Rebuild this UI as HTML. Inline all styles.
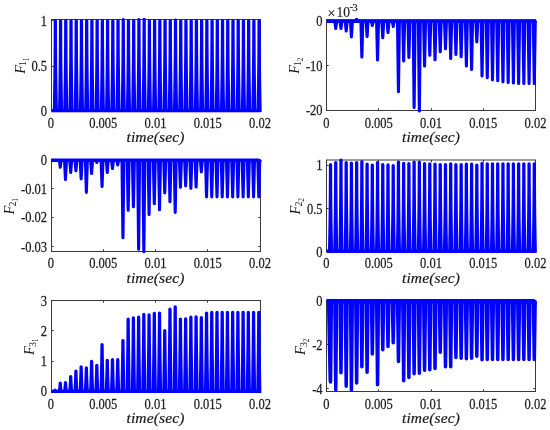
<!DOCTYPE html>
<html><head><meta charset="utf-8"><style>
html,body{margin:0;padding:0;background:#fff;}
body{width:550px;height:430px;overflow:hidden;}
svg{display:block;}
.tk{font-family:"Liberation Serif",serif;font-size:13.6px;fill:#1e1e1e;stroke:#1e1e1e;stroke-width:0.25px;}
.xl{font-family:"Liberation Serif",serif;font-style:italic;font-size:15.5px;letter-spacing:0.15px;fill:#1a1a1a;stroke:#1a1a1a;stroke-width:0.2px;}
.yl{font-family:"Liberation Serif",serif;font-style:italic;font-size:14.5px;fill:#1a1a1a;}
.s1{font-style:normal;font-size:10px;}
.s2{font-style:normal;font-size:7.6px;}
.ex{font-family:"Liberation Serif",serif;font-size:12.5px;fill:#1e1e1e;stroke:#1e1e1e;stroke-width:0.2px;}
.exs{font-size:11px;}
.ex2{font-size:14.5px;}
.ex3{font-size:14px;}
</style></head><body>
<svg width="550" height="430" viewBox="0 0 550 430">
<defs></defs>
<rect width="550" height="430" fill="#fff"/>
<rect x="51.5" y="19.5" width="209.0" height="91.0" fill="none" stroke="#3a3a3a" stroke-width="1"/><line x1="51.5" y1="110.5" x2="51.5" y2="108.3" stroke="#3a3a3a" stroke-width="1"/><line x1="51.5" y1="19.5" x2="51.5" y2="21.7" stroke="#3a3a3a" stroke-width="1"/><line x1="103.5" y1="110.5" x2="103.5" y2="108.3" stroke="#3a3a3a" stroke-width="1"/><line x1="103.5" y1="19.5" x2="103.5" y2="21.7" stroke="#3a3a3a" stroke-width="1"/><line x1="155.5" y1="110.5" x2="155.5" y2="108.3" stroke="#3a3a3a" stroke-width="1"/><line x1="155.5" y1="19.5" x2="155.5" y2="21.7" stroke="#3a3a3a" stroke-width="1"/><line x1="207.5" y1="110.5" x2="207.5" y2="108.3" stroke="#3a3a3a" stroke-width="1"/><line x1="207.5" y1="19.5" x2="207.5" y2="21.7" stroke="#3a3a3a" stroke-width="1"/><line x1="260.5" y1="110.5" x2="260.5" y2="108.3" stroke="#3a3a3a" stroke-width="1"/><line x1="260.5" y1="19.5" x2="260.5" y2="21.7" stroke="#3a3a3a" stroke-width="1"/><line x1="51.5" y1="111.5" x2="53.7" y2="111.5" stroke="#3a3a3a" stroke-width="1"/><line x1="260.5" y1="111.5" x2="258.3" y2="111.5" stroke="#3a3a3a" stroke-width="1"/><line x1="51.5" y1="66.5" x2="53.7" y2="66.5" stroke="#3a3a3a" stroke-width="1"/><line x1="260.5" y1="66.5" x2="258.3" y2="66.5" stroke="#3a3a3a" stroke-width="1"/><line x1="51.5" y1="20.5" x2="53.7" y2="20.5" stroke="#3a3a3a" stroke-width="1"/><line x1="260.5" y1="20.5" x2="258.3" y2="20.5" stroke="#3a3a3a" stroke-width="1"/><rect x="326.5" y="19.5" width="209.0" height="91.0" fill="none" stroke="#3a3a3a" stroke-width="1"/><line x1="326.5" y1="110.5" x2="326.5" y2="108.3" stroke="#3a3a3a" stroke-width="1"/><line x1="326.5" y1="19.5" x2="326.5" y2="21.7" stroke="#3a3a3a" stroke-width="1"/><line x1="378.5" y1="110.5" x2="378.5" y2="108.3" stroke="#3a3a3a" stroke-width="1"/><line x1="378.5" y1="19.5" x2="378.5" y2="21.7" stroke="#3a3a3a" stroke-width="1"/><line x1="431.5" y1="110.5" x2="431.5" y2="108.3" stroke="#3a3a3a" stroke-width="1"/><line x1="431.5" y1="19.5" x2="431.5" y2="21.7" stroke="#3a3a3a" stroke-width="1"/><line x1="483.5" y1="110.5" x2="483.5" y2="108.3" stroke="#3a3a3a" stroke-width="1"/><line x1="483.5" y1="19.5" x2="483.5" y2="21.7" stroke="#3a3a3a" stroke-width="1"/><line x1="535.5" y1="110.5" x2="535.5" y2="108.3" stroke="#3a3a3a" stroke-width="1"/><line x1="535.5" y1="19.5" x2="535.5" y2="21.7" stroke="#3a3a3a" stroke-width="1"/><line x1="326.5" y1="21.5" x2="328.7" y2="21.5" stroke="#3a3a3a" stroke-width="1"/><line x1="535.5" y1="21.5" x2="533.3" y2="21.5" stroke="#3a3a3a" stroke-width="1"/><line x1="326.5" y1="65.5" x2="328.7" y2="65.5" stroke="#3a3a3a" stroke-width="1"/><line x1="535.5" y1="65.5" x2="533.3" y2="65.5" stroke="#3a3a3a" stroke-width="1"/><line x1="326.5" y1="110.5" x2="328.7" y2="110.5" stroke="#3a3a3a" stroke-width="1"/><line x1="535.5" y1="110.5" x2="533.3" y2="110.5" stroke="#3a3a3a" stroke-width="1"/><rect x="51.5" y="160.0" width="209.0" height="91.5" fill="none" stroke="#3a3a3a" stroke-width="1"/><line x1="51.5" y1="251.5" x2="51.5" y2="249.3" stroke="#3a3a3a" stroke-width="1"/><line x1="51.5" y1="160.0" x2="51.5" y2="162.2" stroke="#3a3a3a" stroke-width="1"/><line x1="103.5" y1="251.5" x2="103.5" y2="249.3" stroke="#3a3a3a" stroke-width="1"/><line x1="103.5" y1="160.0" x2="103.5" y2="162.2" stroke="#3a3a3a" stroke-width="1"/><line x1="155.5" y1="251.5" x2="155.5" y2="249.3" stroke="#3a3a3a" stroke-width="1"/><line x1="155.5" y1="160.0" x2="155.5" y2="162.2" stroke="#3a3a3a" stroke-width="1"/><line x1="207.5" y1="251.5" x2="207.5" y2="249.3" stroke="#3a3a3a" stroke-width="1"/><line x1="207.5" y1="160.0" x2="207.5" y2="162.2" stroke="#3a3a3a" stroke-width="1"/><line x1="260.5" y1="251.5" x2="260.5" y2="249.3" stroke="#3a3a3a" stroke-width="1"/><line x1="260.5" y1="160.0" x2="260.5" y2="162.2" stroke="#3a3a3a" stroke-width="1"/><line x1="51.5" y1="159.5" x2="53.7" y2="159.5" stroke="#3a3a3a" stroke-width="1"/><line x1="260.5" y1="159.5" x2="258.3" y2="159.5" stroke="#3a3a3a" stroke-width="1"/><line x1="51.5" y1="188.5" x2="53.7" y2="188.5" stroke="#3a3a3a" stroke-width="1"/><line x1="260.5" y1="188.5" x2="258.3" y2="188.5" stroke="#3a3a3a" stroke-width="1"/><line x1="51.5" y1="217.5" x2="53.7" y2="217.5" stroke="#3a3a3a" stroke-width="1"/><line x1="260.5" y1="217.5" x2="258.3" y2="217.5" stroke="#3a3a3a" stroke-width="1"/><line x1="51.5" y1="246.5" x2="53.7" y2="246.5" stroke="#3a3a3a" stroke-width="1"/><line x1="260.5" y1="246.5" x2="258.3" y2="246.5" stroke="#3a3a3a" stroke-width="1"/><rect x="326.5" y="160.0" width="209.0" height="91.5" fill="none" stroke="#3a3a3a" stroke-width="1"/><line x1="326.5" y1="251.5" x2="326.5" y2="249.3" stroke="#3a3a3a" stroke-width="1"/><line x1="326.5" y1="160.0" x2="326.5" y2="162.2" stroke="#3a3a3a" stroke-width="1"/><line x1="378.5" y1="251.5" x2="378.5" y2="249.3" stroke="#3a3a3a" stroke-width="1"/><line x1="378.5" y1="160.0" x2="378.5" y2="162.2" stroke="#3a3a3a" stroke-width="1"/><line x1="431.5" y1="251.5" x2="431.5" y2="249.3" stroke="#3a3a3a" stroke-width="1"/><line x1="431.5" y1="160.0" x2="431.5" y2="162.2" stroke="#3a3a3a" stroke-width="1"/><line x1="483.5" y1="251.5" x2="483.5" y2="249.3" stroke="#3a3a3a" stroke-width="1"/><line x1="483.5" y1="160.0" x2="483.5" y2="162.2" stroke="#3a3a3a" stroke-width="1"/><line x1="535.5" y1="251.5" x2="535.5" y2="249.3" stroke="#3a3a3a" stroke-width="1"/><line x1="535.5" y1="160.0" x2="535.5" y2="162.2" stroke="#3a3a3a" stroke-width="1"/><line x1="326.5" y1="251.5" x2="328.7" y2="251.5" stroke="#3a3a3a" stroke-width="1"/><line x1="535.5" y1="251.5" x2="533.3" y2="251.5" stroke="#3a3a3a" stroke-width="1"/><line x1="326.5" y1="208.5" x2="328.7" y2="208.5" stroke="#3a3a3a" stroke-width="1"/><line x1="535.5" y1="208.5" x2="533.3" y2="208.5" stroke="#3a3a3a" stroke-width="1"/><line x1="326.5" y1="165.5" x2="328.7" y2="165.5" stroke="#3a3a3a" stroke-width="1"/><line x1="535.5" y1="165.5" x2="533.3" y2="165.5" stroke="#3a3a3a" stroke-width="1"/><rect x="51.5" y="300.5" width="209.0" height="91.0" fill="none" stroke="#3a3a3a" stroke-width="1"/><line x1="51.5" y1="391.5" x2="51.5" y2="389.3" stroke="#3a3a3a" stroke-width="1"/><line x1="51.5" y1="300.5" x2="51.5" y2="302.7" stroke="#3a3a3a" stroke-width="1"/><line x1="103.5" y1="391.5" x2="103.5" y2="389.3" stroke="#3a3a3a" stroke-width="1"/><line x1="103.5" y1="300.5" x2="103.5" y2="302.7" stroke="#3a3a3a" stroke-width="1"/><line x1="155.5" y1="391.5" x2="155.5" y2="389.3" stroke="#3a3a3a" stroke-width="1"/><line x1="155.5" y1="300.5" x2="155.5" y2="302.7" stroke="#3a3a3a" stroke-width="1"/><line x1="207.5" y1="391.5" x2="207.5" y2="389.3" stroke="#3a3a3a" stroke-width="1"/><line x1="207.5" y1="300.5" x2="207.5" y2="302.7" stroke="#3a3a3a" stroke-width="1"/><line x1="260.5" y1="391.5" x2="260.5" y2="389.3" stroke="#3a3a3a" stroke-width="1"/><line x1="260.5" y1="300.5" x2="260.5" y2="302.7" stroke="#3a3a3a" stroke-width="1"/><line x1="51.5" y1="391.5" x2="53.7" y2="391.5" stroke="#3a3a3a" stroke-width="1"/><line x1="260.5" y1="391.5" x2="258.3" y2="391.5" stroke="#3a3a3a" stroke-width="1"/><line x1="51.5" y1="361.5" x2="53.7" y2="361.5" stroke="#3a3a3a" stroke-width="1"/><line x1="260.5" y1="361.5" x2="258.3" y2="361.5" stroke="#3a3a3a" stroke-width="1"/><line x1="51.5" y1="330.5" x2="53.7" y2="330.5" stroke="#3a3a3a" stroke-width="1"/><line x1="260.5" y1="330.5" x2="258.3" y2="330.5" stroke="#3a3a3a" stroke-width="1"/><line x1="51.5" y1="300.5" x2="53.7" y2="300.5" stroke="#3a3a3a" stroke-width="1"/><line x1="260.5" y1="300.5" x2="258.3" y2="300.5" stroke="#3a3a3a" stroke-width="1"/><rect x="326.5" y="300.5" width="209.0" height="91.0" fill="none" stroke="#3a3a3a" stroke-width="1"/><line x1="326.5" y1="391.5" x2="326.5" y2="389.3" stroke="#3a3a3a" stroke-width="1"/><line x1="326.5" y1="300.5" x2="326.5" y2="302.7" stroke="#3a3a3a" stroke-width="1"/><line x1="378.5" y1="391.5" x2="378.5" y2="389.3" stroke="#3a3a3a" stroke-width="1"/><line x1="378.5" y1="300.5" x2="378.5" y2="302.7" stroke="#3a3a3a" stroke-width="1"/><line x1="431.5" y1="391.5" x2="431.5" y2="389.3" stroke="#3a3a3a" stroke-width="1"/><line x1="431.5" y1="300.5" x2="431.5" y2="302.7" stroke="#3a3a3a" stroke-width="1"/><line x1="483.5" y1="391.5" x2="483.5" y2="389.3" stroke="#3a3a3a" stroke-width="1"/><line x1="483.5" y1="300.5" x2="483.5" y2="302.7" stroke="#3a3a3a" stroke-width="1"/><line x1="535.5" y1="391.5" x2="535.5" y2="389.3" stroke="#3a3a3a" stroke-width="1"/><line x1="535.5" y1="300.5" x2="535.5" y2="302.7" stroke="#3a3a3a" stroke-width="1"/><line x1="326.5" y1="301.5" x2="328.7" y2="301.5" stroke="#3a3a3a" stroke-width="1"/><line x1="535.5" y1="301.5" x2="533.3" y2="301.5" stroke="#3a3a3a" stroke-width="1"/><line x1="326.5" y1="344.5" x2="328.7" y2="344.5" stroke="#3a3a3a" stroke-width="1"/><line x1="535.5" y1="344.5" x2="533.3" y2="344.5" stroke="#3a3a3a" stroke-width="1"/><line x1="326.5" y1="388.5" x2="328.7" y2="388.5" stroke="#3a3a3a" stroke-width="1"/><line x1="535.5" y1="388.5" x2="533.3" y2="388.5" stroke="#3a3a3a" stroke-width="1"/>
<g fill="#0000ff" stroke="none">
<path d="M52.74,112.10 L52.96,100.67 L53.15,89.24 L53.32,77.81 L53.45,66.38 L53.55,54.94 L53.63,43.51 L53.67,32.08 L53.69,20.65 A1.65,1.65 0 0 1 56.99,20.65 L57.00,32.08 L57.05,43.51 L57.12,54.94 L57.22,66.38 L57.36,77.81 L57.52,89.24 L57.71,100.67 L57.94,112.10Z"/><path d="M57.96,112.10 L58.18,100.67 L58.38,89.24 L58.54,77.81 L58.67,66.38 L58.78,54.94 L58.85,43.51 L58.90,32.08 L58.91,20.65 A1.65,1.65 0 0 1 62.21,20.65 L62.23,32.08 L62.27,43.51 L62.35,54.94 L62.45,66.38 L62.58,77.81 L62.75,89.24 L62.94,100.67 L63.16,112.10Z"/><path d="M63.19,112.10 L63.41,100.67 L63.60,89.24 L63.77,77.81 L63.90,66.38 L64.00,54.94 L64.08,43.51 L64.12,32.08 L64.14,20.65 A1.65,1.65 0 0 1 67.44,20.65 L67.45,32.08 L67.50,43.51 L67.57,54.94 L67.67,66.38 L67.81,77.81 L67.97,89.24 L68.16,100.67 L68.39,112.10Z"/><path d="M68.41,112.10 L68.63,100.67 L68.83,89.24 L68.99,77.81 L69.12,66.38 L69.23,54.94 L69.30,43.51 L69.35,32.08 L69.36,20.65 A1.65,1.65 0 0 1 72.66,20.65 L72.68,32.08 L72.72,43.51 L72.80,54.94 L72.90,66.38 L73.03,77.81 L73.20,89.24 L73.39,100.67 L73.61,112.10Z"/><path d="M73.64,112.10 L73.86,100.67 L74.05,89.24 L74.22,77.81 L74.35,66.38 L74.45,54.94 L74.53,43.51 L74.57,32.08 L74.59,20.65 A1.65,1.65 0 0 1 77.89,20.65 L77.90,32.08 L77.95,43.51 L78.02,54.94 L78.12,66.38 L78.26,77.81 L78.42,89.24 L78.61,100.67 L78.84,112.10Z"/><path d="M78.86,112.10 L79.08,100.67 L79.28,89.24 L79.44,77.81 L79.57,66.38 L79.68,54.94 L79.75,43.51 L79.80,32.08 L79.81,20.65 A1.65,1.65 0 0 1 83.11,20.65 L83.13,32.08 L83.17,43.51 L83.25,54.94 L83.35,66.38 L83.48,77.81 L83.65,89.24 L83.84,100.67 L84.06,112.10Z"/><path d="M84.09,112.10 L84.31,100.67 L84.50,89.24 L84.67,77.81 L84.80,66.38 L84.90,54.94 L84.98,43.51 L85.02,32.08 L85.04,20.65 A1.65,1.65 0 0 1 88.34,20.65 L88.35,32.08 L88.40,43.51 L88.47,54.94 L88.57,66.38 L88.71,77.81 L88.87,89.24 L89.06,100.67 L89.29,112.10Z"/><path d="M89.31,112.10 L89.53,100.67 L89.73,89.24 L89.89,77.81 L90.02,66.38 L90.13,54.94 L90.20,43.51 L90.25,32.08 L90.26,20.65 A1.65,1.65 0 0 1 93.56,20.65 L93.58,32.08 L93.62,43.51 L93.70,54.94 L93.80,66.38 L93.93,77.81 L94.10,89.24 L94.29,100.67 L94.51,112.10Z"/><path d="M94.54,112.10 L94.76,100.67 L94.95,89.24 L95.12,77.81 L95.25,66.38 L95.35,54.94 L95.43,43.51 L95.47,32.08 L95.49,20.65 A1.65,1.65 0 0 1 98.79,20.65 L98.80,32.08 L98.85,43.51 L98.92,54.94 L99.02,66.38 L99.16,77.81 L99.32,89.24 L99.51,100.67 L99.74,112.10Z"/><path d="M99.76,112.10 L99.98,100.67 L100.18,89.24 L100.34,77.81 L100.47,66.38 L100.58,54.94 L100.65,43.51 L100.70,32.08 L100.71,20.65 A1.65,1.65 0 0 1 104.01,20.65 L104.03,32.08 L104.07,43.51 L104.15,54.94 L104.25,66.38 L104.38,77.81 L104.55,89.24 L104.74,100.67 L104.96,112.10Z"/><path d="M104.99,112.10 L105.21,100.67 L105.40,89.24 L105.57,77.81 L105.70,66.38 L105.80,54.94 L105.88,43.51 L105.92,32.08 L105.94,20.65 A1.65,1.65 0 0 1 109.24,20.65 L109.25,32.08 L109.30,43.51 L109.37,54.94 L109.47,66.38 L109.61,77.81 L109.77,89.24 L109.96,100.67 L110.19,112.10Z"/><path d="M110.21,112.10 L110.43,100.67 L110.63,89.24 L110.79,77.81 L110.92,66.38 L111.03,54.94 L111.10,43.51 L111.15,32.08 L111.16,20.65 A1.65,1.65 0 0 1 114.46,20.65 L114.48,32.08 L114.52,43.51 L114.60,54.94 L114.70,66.38 L114.83,77.81 L115.00,89.24 L115.19,100.67 L115.41,112.10Z"/><path d="M115.44,112.10 L115.66,100.67 L115.85,89.24 L116.02,77.81 L116.15,66.38 L116.25,54.94 L116.33,43.51 L116.37,32.08 L116.39,20.65 A1.65,1.65 0 0 1 119.69,20.65 L119.70,32.08 L119.75,43.51 L119.82,54.94 L119.92,66.38 L120.06,77.81 L120.22,89.24 L120.41,100.67 L120.64,112.10Z"/><path d="M120.66,112.10 L120.88,100.54 L121.08,88.99 L121.24,77.43 L121.37,65.88 L121.48,54.32 L121.55,42.76 L121.60,31.21 L121.61,19.65 A1.65,1.65 0 0 1 124.91,19.65 L124.93,31.21 L124.97,42.76 L125.05,54.32 L125.15,65.88 L125.28,77.43 L125.45,88.99 L125.64,100.54 L125.86,112.10Z"/><path d="M125.89,112.10 L126.11,100.67 L126.30,89.24 L126.47,77.81 L126.60,66.38 L126.70,54.94 L126.78,43.51 L126.82,32.08 L126.84,20.65 A1.65,1.65 0 0 1 130.14,20.65 L130.15,32.08 L130.20,43.51 L130.27,54.94 L130.37,66.38 L130.51,77.81 L130.67,89.24 L130.86,100.67 L131.09,112.10Z"/><path d="M131.11,112.10 L131.33,100.67 L131.53,89.24 L131.69,77.81 L131.82,66.38 L131.93,54.94 L132.00,43.51 L132.05,32.08 L132.06,20.65 A1.65,1.65 0 0 1 135.36,20.65 L135.38,32.08 L135.42,43.51 L135.50,54.94 L135.60,66.38 L135.73,77.81 L135.90,89.24 L136.09,100.67 L136.31,112.10Z"/><path d="M136.34,112.10 L136.56,100.54 L136.75,88.99 L136.92,77.43 L137.05,65.88 L137.15,54.32 L137.23,42.76 L137.27,31.21 L137.29,19.65 A1.65,1.65 0 0 1 140.59,19.65 L140.60,31.21 L140.65,42.76 L140.72,54.32 L140.82,65.88 L140.96,77.43 L141.12,88.99 L141.31,100.54 L141.54,112.10Z"/><path d="M141.56,112.10 L141.78,100.52 L141.98,88.94 L142.14,77.36 L142.27,65.78 L142.38,54.19 L142.45,42.61 L142.50,31.03 L142.51,19.45 A1.65,1.65 0 0 1 145.81,19.45 L145.83,31.03 L145.87,42.61 L145.95,54.19 L146.05,65.78 L146.18,77.36 L146.35,88.94 L146.54,100.52 L146.76,112.10Z"/><path d="M146.79,112.10 L147.01,100.67 L147.20,89.24 L147.37,77.81 L147.50,66.38 L147.60,54.94 L147.68,43.51 L147.72,32.08 L147.74,20.65 A1.65,1.65 0 0 1 151.04,20.65 L151.05,32.08 L151.10,43.51 L151.17,54.94 L151.27,66.38 L151.41,77.81 L151.57,89.24 L151.76,100.67 L151.99,112.10Z"/><path d="M152.01,112.10 L152.23,100.67 L152.43,89.24 L152.59,77.81 L152.72,66.38 L152.83,54.94 L152.90,43.51 L152.95,32.08 L152.96,20.65 A1.65,1.65 0 0 1 156.26,20.65 L156.28,32.08 L156.32,43.51 L156.40,54.94 L156.50,66.38 L156.63,77.81 L156.80,89.24 L156.99,100.67 L157.21,112.10Z"/><path d="M157.24,112.10 L157.46,100.67 L157.65,89.24 L157.82,77.81 L157.95,66.38 L158.05,54.94 L158.13,43.51 L158.17,32.08 L158.19,20.65 A1.65,1.65 0 0 1 161.49,20.65 L161.50,32.08 L161.55,43.51 L161.62,54.94 L161.72,66.38 L161.86,77.81 L162.02,89.24 L162.21,100.67 L162.44,112.10Z"/><path d="M162.46,112.10 L162.68,100.67 L162.88,89.24 L163.04,77.81 L163.17,66.38 L163.28,54.94 L163.35,43.51 L163.40,32.08 L163.41,20.65 A1.65,1.65 0 0 1 166.71,20.65 L166.73,32.08 L166.77,43.51 L166.85,54.94 L166.95,66.38 L167.08,77.81 L167.25,89.24 L167.44,100.67 L167.66,112.10Z"/><path d="M167.69,112.10 L167.91,100.67 L168.10,89.24 L168.27,77.81 L168.40,66.38 L168.50,54.94 L168.58,43.51 L168.62,32.08 L168.64,20.65 A1.65,1.65 0 0 1 171.94,20.65 L171.95,32.08 L172.00,43.51 L172.07,54.94 L172.17,66.38 L172.31,77.81 L172.47,89.24 L172.66,100.67 L172.89,112.10Z"/><path d="M172.91,112.10 L173.13,100.62 L173.33,89.14 L173.49,77.66 L173.62,66.17 L173.73,54.69 L173.80,43.21 L173.85,31.73 L173.86,20.25 A1.65,1.65 0 0 1 177.16,20.25 L177.18,31.73 L177.22,43.21 L177.30,54.69 L177.40,66.17 L177.53,77.66 L177.70,89.14 L177.89,100.62 L178.11,112.10Z"/><path d="M178.14,112.10 L178.36,100.67 L178.55,89.24 L178.72,77.81 L178.85,66.38 L178.95,54.94 L179.03,43.51 L179.07,32.08 L179.09,20.65 A1.65,1.65 0 0 1 182.39,20.65 L182.40,32.08 L182.45,43.51 L182.52,54.94 L182.62,66.38 L182.76,77.81 L182.92,89.24 L183.11,100.67 L183.34,112.10Z"/><path d="M183.36,112.10 L183.58,100.67 L183.78,89.24 L183.94,77.81 L184.07,66.38 L184.18,54.94 L184.25,43.51 L184.30,32.08 L184.31,20.65 A1.65,1.65 0 0 1 187.61,20.65 L187.63,32.08 L187.67,43.51 L187.75,54.94 L187.85,66.38 L187.98,77.81 L188.15,89.24 L188.34,100.67 L188.56,112.10Z"/><path d="M188.59,112.10 L188.81,100.67 L189.00,89.24 L189.17,77.81 L189.30,66.38 L189.40,54.94 L189.48,43.51 L189.52,32.08 L189.54,20.65 A1.65,1.65 0 0 1 192.84,20.65 L192.85,32.08 L192.90,43.51 L192.97,54.94 L193.07,66.38 L193.21,77.81 L193.37,89.24 L193.56,100.67 L193.79,112.10Z"/><path d="M193.81,112.10 L194.03,100.67 L194.23,89.24 L194.39,77.81 L194.52,66.38 L194.63,54.94 L194.70,43.51 L194.75,32.08 L194.76,20.65 A1.65,1.65 0 0 1 198.06,20.65 L198.08,32.08 L198.12,43.51 L198.20,54.94 L198.30,66.38 L198.43,77.81 L198.60,89.24 L198.79,100.67 L199.01,112.10Z"/><path d="M199.04,112.10 L199.26,100.67 L199.45,89.24 L199.62,77.81 L199.75,66.38 L199.85,54.94 L199.93,43.51 L199.97,32.08 L199.99,20.65 A1.65,1.65 0 0 1 203.29,20.65 L203.30,32.08 L203.35,43.51 L203.42,54.94 L203.52,66.38 L203.66,77.81 L203.82,89.24 L204.01,100.67 L204.24,112.10Z"/><path d="M204.26,112.10 L204.48,100.67 L204.68,89.24 L204.84,77.81 L204.97,66.38 L205.08,54.94 L205.15,43.51 L205.20,32.08 L205.21,20.65 A1.65,1.65 0 0 1 208.51,20.65 L208.53,32.08 L208.57,43.51 L208.65,54.94 L208.75,66.38 L208.88,77.81 L209.05,89.24 L209.24,100.67 L209.46,112.10Z"/><path d="M209.49,112.10 L209.71,100.67 L209.90,89.24 L210.07,77.81 L210.20,66.38 L210.30,54.94 L210.38,43.51 L210.42,32.08 L210.44,20.65 A1.65,1.65 0 0 1 213.74,20.65 L213.75,32.08 L213.80,43.51 L213.87,54.94 L213.97,66.38 L214.11,77.81 L214.27,89.24 L214.46,100.67 L214.69,112.10Z"/><path d="M214.71,112.10 L214.93,100.67 L215.13,89.24 L215.29,77.81 L215.42,66.38 L215.53,54.94 L215.60,43.51 L215.65,32.08 L215.66,20.65 A1.65,1.65 0 0 1 218.96,20.65 L218.98,32.08 L219.02,43.51 L219.10,54.94 L219.20,66.38 L219.33,77.81 L219.50,89.24 L219.69,100.67 L219.91,112.10Z"/><path d="M219.94,112.10 L220.16,100.67 L220.35,89.24 L220.52,77.81 L220.65,66.38 L220.75,54.94 L220.83,43.51 L220.87,32.08 L220.89,20.65 A1.65,1.65 0 0 1 224.19,20.65 L224.20,32.08 L224.25,43.51 L224.32,54.94 L224.42,66.38 L224.56,77.81 L224.72,89.24 L224.91,100.67 L225.14,112.10Z"/><path d="M225.16,112.10 L225.38,100.67 L225.58,89.24 L225.74,77.81 L225.87,66.38 L225.98,54.94 L226.05,43.51 L226.10,32.08 L226.11,20.65 A1.65,1.65 0 0 1 229.41,20.65 L229.43,32.08 L229.47,43.51 L229.55,54.94 L229.65,66.38 L229.78,77.81 L229.95,89.24 L230.14,100.67 L230.36,112.10Z"/><path d="M230.39,112.10 L230.61,100.67 L230.80,89.24 L230.97,77.81 L231.10,66.38 L231.20,54.94 L231.28,43.51 L231.32,32.08 L231.34,20.65 A1.65,1.65 0 0 1 234.64,20.65 L234.65,32.08 L234.70,43.51 L234.77,54.94 L234.87,66.38 L235.01,77.81 L235.17,89.24 L235.36,100.67 L235.59,112.10Z"/><path d="M235.61,112.10 L235.83,100.67 L236.03,89.24 L236.19,77.81 L236.32,66.38 L236.43,54.94 L236.50,43.51 L236.55,32.08 L236.56,20.65 A1.65,1.65 0 0 1 239.86,20.65 L239.88,32.08 L239.92,43.51 L240.00,54.94 L240.10,66.38 L240.23,77.81 L240.40,89.24 L240.59,100.67 L240.81,112.10Z"/><path d="M240.84,112.10 L241.06,100.67 L241.25,89.24 L241.42,77.81 L241.55,66.38 L241.65,54.94 L241.73,43.51 L241.77,32.08 L241.79,20.65 A1.65,1.65 0 0 1 245.09,20.65 L245.10,32.08 L245.15,43.51 L245.22,54.94 L245.32,66.38 L245.46,77.81 L245.62,89.24 L245.81,100.67 L246.04,112.10Z"/><path d="M246.06,112.10 L246.28,100.67 L246.48,89.24 L246.64,77.81 L246.77,66.38 L246.88,54.94 L246.95,43.51 L247.00,32.08 L247.01,20.65 A1.65,1.65 0 0 1 250.31,20.65 L250.33,32.08 L250.37,43.51 L250.45,54.94 L250.55,66.38 L250.68,77.81 L250.85,89.24 L251.04,100.67 L251.26,112.10Z"/><path d="M251.29,112.10 L251.51,100.67 L251.70,89.24 L251.87,77.81 L252.00,66.38 L252.10,54.94 L252.18,43.51 L252.22,32.08 L252.24,20.65 A1.65,1.65 0 0 1 255.54,20.65 L255.55,32.08 L255.60,43.51 L255.67,54.94 L255.77,66.38 L255.91,77.81 L256.07,89.24 L256.26,100.67 L256.49,112.10Z"/><path d="M256.51,112.10 L256.73,100.67 L256.93,89.24 L257.09,77.81 L257.22,66.38 L257.33,54.94 L257.40,43.51 L257.45,32.08 L257.46,20.65 A1.65,1.65 0 0 1 260.76,20.65 L260.78,32.08 L260.82,43.51 L260.90,54.94 L261.00,66.38 L261.13,77.81 L261.30,89.24 L261.49,100.67 L261.71,112.10Z"/><rect x="51.5" y="109.1" width="209.0" height="3.2"/><path d="M326.5,19.95 H536.0 L536.7,20.8 V23.0 H326.5 Z"/><path d="M333.25,21.00 L333.37,21.94 L333.49,22.89 L333.60,23.83 L333.72,24.77 L333.84,25.72 L333.96,26.66 L334.08,27.61 L334.20,28.55 A1.55,1.55 0 0 0 337.30,28.55 L337.42,27.61 L337.54,26.66 L337.65,25.72 L337.77,24.77 L337.89,23.83 L338.01,22.89 L338.13,21.94 L338.25,21.00Z"/><path d="M338.47,21.00 L338.59,21.94 L338.71,22.89 L338.83,23.83 L338.95,24.77 L339.07,25.72 L339.19,26.66 L339.30,27.61 L339.42,28.55 A1.55,1.55 0 0 0 342.52,28.55 L342.64,27.61 L342.76,26.66 L342.88,25.72 L343.00,24.77 L343.12,23.83 L343.24,22.89 L343.35,21.94 L343.47,21.00Z"/><path d="M343.70,21.00 L343.82,22.26 L343.94,23.51 L344.05,24.77 L344.17,26.02 L344.29,27.28 L344.41,28.54 L344.53,29.79 L344.65,31.05 A1.55,1.55 0 0 0 347.75,31.05 L347.87,29.79 L347.99,28.54 L348.10,27.28 L348.22,26.02 L348.34,24.77 L348.46,23.51 L348.58,22.26 L348.70,21.00Z"/><path d="M348.92,21.00 L349.04,22.98 L349.16,24.96 L349.28,26.94 L349.40,28.93 L349.52,30.91 L349.64,32.89 L349.75,34.87 L349.87,36.85 A1.55,1.55 0 0 0 352.97,36.85 L353.09,34.87 L353.21,32.89 L353.33,30.91 L353.45,28.93 L353.57,26.94 L353.69,24.96 L353.80,22.98 L353.92,21.00Z"/><path d="M359.37,21.00 L359.49,25.49 L359.61,29.99 L359.73,34.48 L359.85,38.98 L359.97,43.47 L360.09,47.96 L360.20,52.46 L360.32,56.95 A1.55,1.55 0 0 0 363.42,56.95 L363.54,52.46 L363.66,47.96 L363.78,43.47 L363.90,38.98 L364.02,34.48 L364.14,29.99 L364.25,25.49 L364.37,21.00Z"/><path d="M364.60,21.00 L364.72,22.93 L364.84,24.86 L364.95,26.79 L365.07,28.73 L365.19,30.66 L365.31,32.59 L365.43,34.52 L365.55,36.45 A1.55,1.55 0 0 0 368.65,36.45 L368.77,34.52 L368.89,32.59 L369.00,30.66 L369.12,28.73 L369.24,26.79 L369.36,24.86 L369.48,22.93 L369.60,21.00Z"/><path d="M369.82,21.00 L369.94,21.56 L370.06,22.11 L370.18,22.67 L370.30,23.23 L370.42,23.78 L370.54,24.34 L370.65,24.89 L370.77,25.45 A1.55,1.55 0 0 0 373.87,25.45 L373.99,24.89 L374.11,24.34 L374.23,23.78 L374.35,23.23 L374.47,22.67 L374.59,22.11 L374.70,21.56 L374.82,21.00Z"/><path d="M375.05,21.00 L375.17,25.87 L375.29,30.74 L375.40,35.61 L375.52,40.48 L375.64,45.34 L375.76,50.21 L375.88,55.08 L376.00,59.95 A1.55,1.55 0 0 0 379.10,59.95 L379.22,55.08 L379.34,50.21 L379.45,45.34 L379.57,40.48 L379.69,35.61 L379.81,30.74 L379.93,25.87 L380.05,21.00Z"/><path d="M380.27,21.00 L380.39,23.09 L380.51,25.19 L380.63,27.28 L380.75,29.38 L380.87,31.47 L380.99,33.56 L381.10,35.66 L381.22,37.75 A1.55,1.55 0 0 0 384.32,37.75 L384.44,35.66 L384.56,33.56 L384.68,31.47 L384.80,29.38 L384.92,27.28 L385.04,25.19 L385.15,23.09 L385.27,21.00Z"/><path d="M385.50,21.00 L385.62,22.44 L385.74,23.89 L385.85,25.33 L385.97,26.78 L386.09,28.22 L386.21,29.66 L386.33,31.11 L386.45,32.55 A1.55,1.55 0 0 0 389.55,32.55 L389.67,31.11 L389.79,29.66 L389.90,28.22 L390.02,26.78 L390.14,25.33 L390.26,23.89 L390.38,22.44 L390.50,21.00Z"/><path d="M390.72,21.00 L390.84,21.69 L390.96,22.39 L391.08,23.08 L391.20,23.77 L391.32,24.47 L391.44,25.16 L391.55,25.86 L391.67,26.55 A1.55,1.55 0 0 0 394.77,26.55 L394.89,25.86 L395.01,25.16 L395.13,24.47 L395.25,23.77 L395.37,23.08 L395.49,22.39 L395.60,21.69 L395.72,21.00Z"/><path d="M395.95,21.00 L396.07,29.83 L396.19,38.66 L396.30,47.49 L396.42,56.33 L396.54,65.16 L396.66,73.99 L396.78,82.82 L396.90,91.65 A1.55,1.55 0 0 0 400.00,91.65 L400.12,82.82 L400.24,73.99 L400.35,65.16 L400.47,56.33 L400.59,47.49 L400.71,38.66 L400.83,29.83 L400.95,21.00Z"/><path d="M401.17,21.00 L401.29,25.99 L401.41,30.99 L401.53,35.98 L401.65,40.98 L401.77,45.97 L401.89,50.96 L402.00,55.96 L402.12,60.95 A1.55,1.55 0 0 0 405.22,60.95 L405.34,55.96 L405.46,50.96 L405.58,45.97 L405.70,40.98 L405.82,35.98 L405.94,30.99 L406.05,25.99 L406.17,21.00Z"/><path d="M406.40,21.00 L406.52,25.56 L406.64,30.11 L406.75,34.67 L406.87,39.23 L406.99,43.78 L407.11,48.34 L407.23,52.89 L407.35,57.45 A1.55,1.55 0 0 0 410.45,57.45 L410.57,52.89 L410.69,48.34 L410.80,43.78 L410.92,39.23 L411.04,34.67 L411.16,30.11 L411.28,25.56 L411.40,21.00Z"/><path d="M411.62,21.00 L411.74,31.81 L411.86,42.61 L411.98,53.42 L412.10,64.22 L412.22,75.03 L412.34,85.84 L412.45,96.64 L412.57,107.45 A1.55,1.55 0 0 0 415.67,107.45 L415.79,96.64 L415.91,85.84 L416.03,75.03 L416.15,64.22 L416.27,53.42 L416.39,42.61 L416.50,31.81 L416.62,21.00Z"/><path d="M416.85,21.00 L416.97,32.24 L417.09,43.49 L417.20,54.73 L417.32,65.97 L417.44,77.22 L417.56,88.46 L417.68,99.71 L417.80,110.95 A1.55,1.55 0 0 0 420.90,110.95 L421.02,99.71 L421.14,88.46 L421.25,77.22 L421.37,65.97 L421.49,54.73 L421.61,43.49 L421.73,32.24 L421.85,21.00Z"/><path d="M422.07,21.00 L422.19,26.63 L422.31,32.26 L422.43,37.89 L422.55,43.52 L422.67,49.16 L422.79,54.79 L422.90,60.42 L423.02,66.05 A1.55,1.55 0 0 0 426.12,66.05 L426.24,60.42 L426.36,54.79 L426.48,49.16 L426.60,43.52 L426.72,37.89 L426.84,32.26 L426.95,26.63 L427.07,21.00Z"/><path d="M427.30,21.00 L427.42,25.27 L427.54,29.54 L427.65,33.81 L427.77,38.08 L427.89,42.34 L428.01,46.61 L428.13,50.88 L428.25,55.15 A1.55,1.55 0 0 0 431.35,55.15 L431.47,50.88 L431.59,46.61 L431.70,42.34 L431.82,38.08 L431.94,33.81 L432.06,29.54 L432.18,25.27 L432.30,21.00Z"/><path d="M432.52,21.00 L432.64,25.84 L432.76,30.69 L432.88,35.53 L433.00,40.38 L433.12,45.22 L433.24,50.06 L433.35,54.91 L433.47,59.75 A1.55,1.55 0 0 0 436.57,59.75 L436.69,54.91 L436.81,50.06 L436.93,45.22 L437.05,40.38 L437.17,35.53 L437.29,30.69 L437.40,25.84 L437.52,21.00Z"/><path d="M437.75,21.00 L437.87,24.83 L437.99,28.66 L438.10,32.49 L438.22,36.33 L438.34,40.16 L438.46,43.99 L438.58,47.82 L438.70,51.65 A1.55,1.55 0 0 0 441.80,51.65 L441.92,47.82 L442.04,43.99 L442.15,40.16 L442.27,36.33 L442.39,32.49 L442.51,28.66 L442.63,24.83 L442.75,21.00Z"/><path d="M442.97,21.00 L443.09,24.46 L443.21,27.91 L443.33,31.37 L443.45,34.83 L443.57,38.28 L443.69,41.74 L443.80,45.19 L443.92,48.65 A1.55,1.55 0 0 0 447.02,48.65 L447.14,45.19 L447.26,41.74 L447.38,38.28 L447.50,34.83 L447.62,31.37 L447.74,27.91 L447.85,24.46 L447.97,21.00Z"/><path d="M448.20,21.00 L448.32,25.68 L448.44,30.36 L448.55,35.04 L448.67,39.73 L448.79,44.41 L448.91,49.09 L449.03,53.77 L449.15,58.45 A1.55,1.55 0 0 0 452.25,58.45 L452.37,53.77 L452.49,49.09 L452.60,44.41 L452.72,39.73 L452.84,35.04 L452.96,30.36 L453.08,25.68 L453.20,21.00Z"/><path d="M453.42,21.00 L453.54,25.18 L453.66,29.36 L453.78,33.54 L453.90,37.73 L454.02,41.91 L454.14,46.09 L454.25,50.27 L454.37,54.45 A1.55,1.55 0 0 0 457.47,54.45 L457.59,50.27 L457.71,46.09 L457.83,41.91 L457.95,37.73 L458.07,33.54 L458.19,29.36 L458.30,25.18 L458.42,21.00Z"/><path d="M458.65,21.00 L458.77,25.47 L458.89,29.94 L459.00,34.41 L459.12,38.88 L459.24,43.34 L459.36,47.81 L459.48,52.28 L459.60,56.75 A1.55,1.55 0 0 0 462.70,56.75 L462.82,52.28 L462.94,47.81 L463.05,43.34 L463.17,38.88 L463.29,34.41 L463.41,29.94 L463.53,25.47 L463.65,21.00Z"/><path d="M463.87,21.00 L463.99,26.63 L464.11,32.26 L464.23,37.89 L464.35,43.52 L464.47,49.16 L464.59,54.79 L464.70,60.42 L464.82,66.05 A1.55,1.55 0 0 0 467.92,66.05 L468.04,60.42 L468.16,54.79 L468.28,49.16 L468.40,43.52 L468.52,37.89 L468.64,32.26 L468.75,26.63 L468.87,21.00Z"/><path d="M469.10,21.00 L469.22,27.07 L469.34,33.14 L469.45,39.21 L469.57,45.27 L469.69,51.34 L469.81,57.41 L469.93,63.48 L470.05,69.55 A1.55,1.55 0 0 0 473.15,69.55 L473.27,63.48 L473.39,57.41 L473.50,51.34 L473.62,45.27 L473.74,39.21 L473.86,33.14 L473.98,27.07 L474.10,21.00Z"/><path d="M474.32,21.00 L474.44,23.61 L474.56,26.21 L474.68,28.82 L474.80,31.43 L474.92,34.03 L475.04,36.64 L475.15,39.24 L475.27,41.85 A1.55,1.55 0 0 0 478.37,41.85 L478.49,39.24 L478.61,36.64 L478.73,34.03 L478.85,31.43 L478.97,28.82 L479.09,26.21 L479.20,23.61 L479.32,21.00Z"/><path d="M479.55,21.00 L479.67,27.88 L479.79,34.76 L479.90,41.64 L480.02,48.52 L480.14,55.41 L480.26,62.29 L480.38,69.17 L480.50,76.05 A1.55,1.55 0 0 0 483.60,76.05 L483.72,69.17 L483.84,62.29 L483.95,55.41 L484.07,48.52 L484.19,41.64 L484.31,34.76 L484.43,27.88 L484.55,21.00Z"/><path d="M484.77,21.00 L484.89,28.09 L485.01,35.19 L485.13,42.28 L485.25,49.38 L485.37,56.47 L485.49,63.56 L485.60,70.66 L485.72,77.75 A1.55,1.55 0 0 0 488.82,77.75 L488.94,70.66 L489.06,63.56 L489.18,56.47 L489.30,49.38 L489.42,42.28 L489.54,35.19 L489.65,28.09 L489.77,21.00Z"/><path d="M490.00,21.00 L490.12,28.36 L490.24,35.71 L490.35,43.07 L490.47,50.43 L490.59,57.78 L490.71,65.14 L490.83,72.49 L490.95,79.85 A1.55,1.55 0 0 0 494.05,79.85 L494.17,72.49 L494.29,65.14 L494.40,57.78 L494.52,50.43 L494.64,43.07 L494.76,35.71 L494.88,28.36 L495.00,21.00Z"/><path d="M495.22,21.00 L495.34,28.47 L495.46,35.94 L495.58,43.41 L495.70,50.88 L495.82,58.34 L495.94,65.81 L496.05,73.28 L496.17,80.75 A1.55,1.55 0 0 0 499.27,80.75 L499.39,73.28 L499.51,65.81 L499.63,58.34 L499.75,50.88 L499.87,43.41 L499.99,35.94 L500.10,28.47 L500.22,21.00Z"/><path d="M500.45,21.00 L500.57,28.61 L500.69,36.21 L500.80,43.82 L500.92,51.43 L501.04,59.03 L501.16,66.64 L501.28,74.24 L501.40,81.85 A1.55,1.55 0 0 0 504.50,81.85 L504.62,74.24 L504.74,66.64 L504.85,59.03 L504.97,51.43 L505.09,43.82 L505.21,36.21 L505.33,28.61 L505.45,21.00Z"/><path d="M505.67,21.00 L505.79,28.69 L505.91,36.39 L506.03,44.08 L506.15,51.77 L506.27,59.47 L506.39,67.16 L506.50,74.86 L506.62,82.55 A1.55,1.55 0 0 0 509.72,82.55 L509.84,74.86 L509.96,67.16 L510.08,59.47 L510.20,51.77 L510.32,44.08 L510.44,36.39 L510.55,28.69 L510.67,21.00Z"/><path d="M510.90,21.00 L511.02,28.76 L511.14,36.51 L511.25,44.27 L511.37,52.02 L511.49,59.78 L511.61,67.54 L511.73,75.29 L511.85,83.05 A1.55,1.55 0 0 0 514.95,83.05 L515.07,75.29 L515.19,67.54 L515.30,59.78 L515.42,52.02 L515.54,44.27 L515.66,36.51 L515.78,28.76 L515.90,21.00Z"/><path d="M516.12,21.00 L516.24,28.82 L516.36,36.64 L516.48,44.46 L516.60,52.27 L516.72,60.09 L516.84,67.91 L516.95,75.73 L517.07,83.55 A1.55,1.55 0 0 0 520.17,83.55 L520.29,75.73 L520.41,67.91 L520.53,60.09 L520.65,52.27 L520.77,44.46 L520.89,36.64 L521.00,28.82 L521.12,21.00Z"/><path d="M521.35,21.00 L521.47,28.82 L521.59,36.64 L521.70,44.46 L521.82,52.27 L521.94,60.09 L522.06,67.91 L522.18,75.73 L522.30,83.55 A1.55,1.55 0 0 0 525.40,83.55 L525.52,75.73 L525.64,67.91 L525.75,60.09 L525.87,52.27 L525.99,44.46 L526.11,36.64 L526.23,28.82 L526.35,21.00Z"/><path d="M526.57,21.00 L526.69,28.82 L526.81,36.64 L526.93,44.46 L527.05,52.27 L527.17,60.09 L527.29,67.91 L527.40,75.73 L527.52,83.55 A1.55,1.55 0 0 0 530.62,83.55 L530.74,75.73 L530.86,67.91 L530.98,60.09 L531.10,52.27 L531.22,44.46 L531.34,36.64 L531.45,28.82 L531.57,21.00Z"/><path d="M531.80,21.00 L531.92,28.82 L532.04,36.64 L532.15,44.46 L532.27,52.27 L532.39,60.09 L532.51,67.91 L532.63,75.73 L532.75,83.55 A1.55,1.55 0 0 0 535.85,83.55 L535.97,75.73 L536.09,67.91 L536.20,60.09 L536.32,52.27 L536.44,44.46 L536.56,36.64 L536.68,28.82 L536.80,21.00Z"/><circle cx="356.65" cy="19.6" r="1.8"/><path d="M51.0,158.4 H258.5 L261.4,160.2 V162 H51.0 Z"/><path d="M57.75,160.00 L57.87,160.91 L57.99,161.81 L58.10,162.72 L58.22,163.62 L58.34,164.53 L58.46,165.44 L58.58,166.34 L58.70,167.25 A1.55,1.55 0 0 0 61.80,167.25 L61.92,166.34 L62.04,165.44 L62.15,164.53 L62.27,163.62 L62.39,162.72 L62.51,161.81 L62.63,160.91 L62.75,160.00Z"/><path d="M62.97,160.00 L63.09,162.44 L63.21,164.89 L63.33,167.33 L63.45,169.77 L63.57,172.22 L63.69,174.66 L63.80,177.11 L63.92,179.55 A1.55,1.55 0 0 0 67.02,179.55 L67.14,177.11 L67.26,174.66 L67.38,172.22 L67.50,169.77 L67.62,167.33 L67.74,164.89 L67.85,162.44 L67.97,160.00Z"/><path d="M68.20,160.00 L68.32,161.57 L68.44,163.14 L68.55,164.71 L68.67,166.27 L68.79,167.84 L68.91,169.41 L69.03,170.98 L69.15,172.55 A1.55,1.55 0 0 0 72.25,172.55 L72.37,170.98 L72.49,169.41 L72.60,167.84 L72.72,166.27 L72.84,164.71 L72.96,163.14 L73.08,161.57 L73.20,160.00Z"/><path d="M73.42,160.00 L73.54,161.34 L73.66,162.69 L73.78,164.03 L73.90,165.38 L74.02,166.72 L74.14,168.06 L74.25,169.41 L74.37,170.75 A1.55,1.55 0 0 0 77.47,170.75 L77.59,169.41 L77.71,168.06 L77.83,166.72 L77.95,165.38 L78.07,164.03 L78.19,162.69 L78.30,161.34 L78.42,160.00Z"/><path d="M78.65,160.00 L78.77,162.36 L78.89,164.71 L79.00,167.07 L79.12,169.43 L79.24,171.78 L79.36,174.14 L79.48,176.49 L79.60,178.85 A1.55,1.55 0 0 0 82.70,178.85 L82.82,176.49 L82.94,174.14 L83.05,171.78 L83.17,169.43 L83.29,167.07 L83.41,164.71 L83.53,162.36 L83.65,160.00Z"/><path d="M83.87,160.00 L83.99,164.04 L84.11,168.09 L84.23,172.13 L84.35,176.18 L84.47,180.22 L84.59,184.26 L84.70,188.31 L84.82,192.35 A1.55,1.55 0 0 0 87.92,192.35 L88.04,188.31 L88.16,184.26 L88.28,180.22 L88.40,176.18 L88.52,172.13 L88.64,168.09 L88.75,164.04 L88.87,160.00Z"/><path d="M89.10,160.00 L89.22,161.69 L89.34,163.39 L89.45,165.08 L89.57,166.77 L89.69,168.47 L89.81,170.16 L89.93,171.86 L90.05,173.55 A1.55,1.55 0 0 0 93.15,173.55 L93.27,171.86 L93.39,170.16 L93.50,168.47 L93.62,166.77 L93.74,165.08 L93.86,163.39 L93.98,161.69 L94.10,160.00Z"/><path d="M94.32,160.00 L94.44,160.32 L94.56,160.64 L94.68,160.96 L94.80,161.27 L94.92,161.59 L95.04,161.91 L95.15,162.23 L95.27,162.55 A1.55,1.55 0 0 0 98.37,162.55 L98.49,162.23 L98.61,161.91 L98.73,161.59 L98.85,161.27 L98.97,160.96 L99.09,160.64 L99.20,160.32 L99.32,160.00Z"/><path d="M99.55,160.00 L99.67,163.32 L99.79,166.64 L99.90,169.96 L100.02,173.27 L100.14,176.59 L100.26,179.91 L100.38,183.23 L100.50,186.55 A1.55,1.55 0 0 0 103.60,186.55 L103.72,183.23 L103.84,179.91 L103.95,176.59 L104.07,173.27 L104.19,169.96 L104.31,166.64 L104.43,163.32 L104.55,160.00Z"/><path d="M104.77,160.00 L104.89,161.57 L105.01,163.14 L105.13,164.71 L105.25,166.27 L105.37,167.84 L105.49,169.41 L105.60,170.98 L105.72,172.55 A1.55,1.55 0 0 0 108.82,172.55 L108.94,170.98 L109.06,169.41 L109.18,167.84 L109.30,166.27 L109.42,164.71 L109.54,163.14 L109.65,161.57 L109.77,160.00Z"/><path d="M110.00,160.00 L110.12,161.06 L110.24,162.11 L110.35,163.17 L110.47,164.22 L110.59,165.28 L110.71,166.34 L110.83,167.39 L110.95,168.45 A1.55,1.55 0 0 0 114.05,168.45 L114.17,167.39 L114.29,166.34 L114.40,165.28 L114.52,164.22 L114.64,163.17 L114.76,162.11 L114.88,161.06 L115.00,160.00Z"/><path d="M115.22,160.00 L115.34,160.62 L115.46,161.24 L115.58,161.86 L115.70,162.47 L115.82,163.09 L115.94,163.71 L116.05,164.33 L116.17,164.95 A1.55,1.55 0 0 0 119.27,164.95 L119.39,164.33 L119.51,163.71 L119.63,163.09 L119.75,162.47 L119.87,161.86 L119.99,161.24 L120.10,160.62 L120.22,160.00Z"/><path d="M120.45,160.00 L120.57,169.72 L120.69,179.44 L120.80,189.16 L120.92,198.88 L121.04,208.59 L121.16,218.31 L121.28,228.03 L121.40,237.75 A1.55,1.55 0 0 0 124.50,237.75 L124.62,228.03 L124.74,218.31 L124.85,208.59 L124.97,198.88 L125.09,189.16 L125.21,179.44 L125.33,169.72 L125.45,160.00Z"/><path d="M125.67,160.00 L125.79,166.28 L125.91,172.56 L126.03,178.84 L126.15,185.12 L126.27,191.41 L126.39,197.69 L126.50,203.97 L126.62,210.25 A1.55,1.55 0 0 0 129.72,210.25 L129.84,203.97 L129.96,197.69 L130.08,191.41 L130.20,185.12 L130.32,178.84 L130.44,172.56 L130.55,166.28 L130.67,160.00Z"/><path d="M130.90,160.00 L131.02,165.84 L131.14,171.69 L131.25,177.53 L131.37,183.38 L131.49,189.22 L131.61,195.06 L131.73,200.91 L131.85,206.75 A1.55,1.55 0 0 0 134.95,206.75 L135.07,200.91 L135.19,195.06 L135.30,189.22 L135.42,183.38 L135.54,177.53 L135.66,171.69 L135.78,165.84 L135.90,160.00Z"/><path d="M136.12,160.00 L136.24,171.16 L136.36,182.31 L136.48,193.47 L136.60,204.62 L136.72,215.78 L136.84,226.94 L136.95,238.09 L137.07,249.25 A1.55,1.55 0 0 0 140.17,249.25 L140.29,238.09 L140.41,226.94 L140.53,215.78 L140.65,204.62 L140.77,193.47 L140.89,182.31 L141.00,171.16 L141.12,160.00Z"/><path d="M141.35,160.00 L141.47,171.46 L141.59,182.91 L141.70,194.37 L141.82,205.82 L141.94,217.28 L142.06,228.74 L142.18,240.19 L142.30,251.65 A1.55,1.55 0 0 0 145.40,251.65 L145.52,240.19 L145.64,228.74 L145.75,217.28 L145.87,205.82 L145.99,194.37 L146.11,182.91 L146.23,171.46 L146.35,160.00Z"/><path d="M146.57,160.00 L146.69,166.81 L146.81,173.61 L146.93,180.42 L147.05,187.22 L147.17,194.03 L147.29,200.84 L147.40,207.64 L147.52,214.45 A1.55,1.55 0 0 0 150.62,214.45 L150.74,207.64 L150.86,200.84 L150.98,194.03 L151.10,187.22 L151.22,180.42 L151.34,173.61 L151.45,166.81 L151.57,160.00Z"/><path d="M151.80,160.00 L151.92,165.47 L152.04,170.94 L152.15,176.41 L152.27,181.88 L152.39,187.34 L152.51,192.81 L152.63,198.28 L152.75,203.75 A1.55,1.55 0 0 0 155.85,203.75 L155.97,198.28 L156.09,192.81 L156.20,187.34 L156.32,181.88 L156.44,176.41 L156.56,170.94 L156.68,165.47 L156.80,160.00Z"/><path d="M157.02,160.00 L157.14,166.22 L157.26,172.44 L157.38,178.66 L157.50,184.88 L157.62,191.09 L157.74,197.31 L157.85,203.53 L157.97,209.75 A1.55,1.55 0 0 0 161.07,209.75 L161.19,203.53 L161.31,197.31 L161.43,191.09 L161.55,184.88 L161.67,178.66 L161.79,172.44 L161.90,166.22 L162.02,160.00Z"/><path d="M162.25,160.00 L162.37,164.11 L162.49,168.21 L162.60,172.32 L162.72,176.43 L162.84,180.53 L162.96,184.64 L163.08,188.74 L163.20,192.85 A1.55,1.55 0 0 0 166.30,192.85 L166.42,188.74 L166.54,184.64 L166.65,180.53 L166.77,176.43 L166.89,172.32 L167.01,168.21 L167.13,164.11 L167.25,160.00Z"/><path d="M167.47,160.00 L167.59,165.21 L167.71,170.41 L167.83,175.62 L167.95,180.82 L168.07,186.03 L168.19,191.24 L168.30,196.44 L168.42,201.65 A1.55,1.55 0 0 0 171.52,201.65 L171.64,196.44 L171.76,191.24 L171.88,186.03 L172.00,180.82 L172.12,175.62 L172.24,170.41 L172.35,165.21 L172.47,160.00Z"/><path d="M172.70,160.00 L172.82,166.54 L172.94,173.09 L173.05,179.63 L173.17,186.18 L173.29,192.72 L173.41,199.26 L173.53,205.81 L173.65,212.35 A1.55,1.55 0 0 0 176.75,212.35 L176.87,205.81 L176.99,199.26 L177.10,192.72 L177.22,186.18 L177.34,179.63 L177.46,173.09 L177.58,166.54 L177.70,160.00Z"/><path d="M177.92,160.00 L178.04,163.41 L178.16,166.81 L178.28,170.22 L178.40,173.62 L178.52,177.03 L178.64,180.44 L178.75,183.84 L178.87,187.25 A1.55,1.55 0 0 0 181.97,187.25 L182.09,183.84 L182.21,180.44 L182.33,177.03 L182.45,173.62 L182.57,170.22 L182.69,166.81 L182.80,163.41 L182.92,160.00Z"/><path d="M183.15,160.00 L183.27,163.23 L183.39,166.46 L183.50,169.69 L183.62,172.93 L183.74,176.16 L183.86,179.39 L183.98,182.62 L184.10,185.85 A1.55,1.55 0 0 0 187.20,185.85 L187.32,182.62 L187.44,179.39 L187.55,176.16 L187.67,172.93 L187.79,169.69 L187.91,166.46 L188.03,163.23 L188.15,160.00Z"/><path d="M188.37,160.00 L188.49,163.52 L188.61,167.04 L188.73,170.56 L188.85,174.07 L188.97,177.59 L189.09,181.11 L189.20,184.63 L189.32,188.15 A1.55,1.55 0 0 0 192.42,188.15 L192.54,184.63 L192.66,181.11 L192.78,177.59 L192.90,174.07 L193.02,170.56 L193.14,167.04 L193.25,163.52 L193.37,160.00Z"/><path d="M193.60,160.00 L193.72,163.38 L193.84,166.76 L193.95,170.14 L194.07,173.52 L194.19,176.91 L194.31,180.29 L194.43,183.67 L194.55,187.05 A1.55,1.55 0 0 0 197.65,187.05 L197.77,183.67 L197.89,180.29 L198.00,176.91 L198.12,173.52 L198.24,170.14 L198.36,166.76 L198.48,163.38 L198.60,160.00Z"/><path d="M198.82,160.00 L198.94,161.48 L199.06,162.96 L199.18,164.44 L199.30,165.93 L199.42,167.41 L199.54,168.89 L199.65,170.37 L199.77,171.85 A1.55,1.55 0 0 0 202.87,171.85 L202.99,170.37 L203.11,168.89 L203.23,167.41 L203.35,165.93 L203.47,164.44 L203.59,162.96 L203.70,161.48 L203.82,160.00Z"/><path d="M204.05,160.00 L204.17,164.61 L204.29,169.21 L204.40,173.82 L204.52,178.43 L204.64,183.03 L204.76,187.64 L204.88,192.24 L205.00,196.85 A1.55,1.55 0 0 0 208.10,196.85 L208.22,192.24 L208.34,187.64 L208.45,183.03 L208.57,178.43 L208.69,173.82 L208.81,169.21 L208.93,164.61 L209.05,160.00Z"/><path d="M209.27,160.00 L209.39,164.61 L209.51,169.21 L209.63,173.82 L209.75,178.43 L209.87,183.03 L209.99,187.64 L210.10,192.24 L210.22,196.85 A1.55,1.55 0 0 0 213.32,196.85 L213.44,192.24 L213.56,187.64 L213.68,183.03 L213.80,178.43 L213.92,173.82 L214.04,169.21 L214.15,164.61 L214.27,160.00Z"/><path d="M214.50,160.00 L214.62,164.61 L214.74,169.21 L214.85,173.82 L214.97,178.43 L215.09,183.03 L215.21,187.64 L215.33,192.24 L215.45,196.85 A1.55,1.55 0 0 0 218.55,196.85 L218.67,192.24 L218.79,187.64 L218.90,183.03 L219.02,178.43 L219.14,173.82 L219.26,169.21 L219.38,164.61 L219.50,160.00Z"/><path d="M219.72,160.00 L219.84,164.61 L219.96,169.21 L220.08,173.82 L220.20,178.43 L220.32,183.03 L220.44,187.64 L220.55,192.24 L220.67,196.85 A1.55,1.55 0 0 0 223.77,196.85 L223.89,192.24 L224.01,187.64 L224.13,183.03 L224.25,178.43 L224.37,173.82 L224.49,169.21 L224.60,164.61 L224.72,160.00Z"/><path d="M224.95,160.00 L225.07,164.61 L225.19,169.21 L225.30,173.82 L225.42,178.43 L225.54,183.03 L225.66,187.64 L225.78,192.24 L225.90,196.85 A1.55,1.55 0 0 0 229.00,196.85 L229.12,192.24 L229.24,187.64 L229.35,183.03 L229.47,178.43 L229.59,173.82 L229.71,169.21 L229.83,164.61 L229.95,160.00Z"/><path d="M230.17,160.00 L230.29,164.61 L230.41,169.21 L230.53,173.82 L230.65,178.43 L230.77,183.03 L230.89,187.64 L231.00,192.24 L231.12,196.85 A1.55,1.55 0 0 0 234.22,196.85 L234.34,192.24 L234.46,187.64 L234.58,183.03 L234.70,178.43 L234.82,173.82 L234.94,169.21 L235.05,164.61 L235.17,160.00Z"/><path d="M235.40,160.00 L235.52,164.61 L235.64,169.21 L235.75,173.82 L235.87,178.43 L235.99,183.03 L236.11,187.64 L236.23,192.24 L236.35,196.85 A1.55,1.55 0 0 0 239.45,196.85 L239.57,192.24 L239.69,187.64 L239.80,183.03 L239.92,178.43 L240.04,173.82 L240.16,169.21 L240.28,164.61 L240.40,160.00Z"/><path d="M240.62,160.00 L240.74,164.61 L240.86,169.21 L240.98,173.82 L241.10,178.43 L241.22,183.03 L241.34,187.64 L241.45,192.24 L241.57,196.85 A1.55,1.55 0 0 0 244.67,196.85 L244.79,192.24 L244.91,187.64 L245.03,183.03 L245.15,178.43 L245.27,173.82 L245.39,169.21 L245.50,164.61 L245.62,160.00Z"/><path d="M245.85,160.00 L245.97,164.61 L246.09,169.21 L246.20,173.82 L246.32,178.43 L246.44,183.03 L246.56,187.64 L246.68,192.24 L246.80,196.85 A1.55,1.55 0 0 0 249.90,196.85 L250.02,192.24 L250.14,187.64 L250.25,183.03 L250.37,178.43 L250.49,173.82 L250.61,169.21 L250.73,164.61 L250.85,160.00Z"/><path d="M251.07,160.00 L251.19,164.61 L251.31,169.21 L251.43,173.82 L251.55,178.43 L251.67,183.03 L251.79,187.64 L251.90,192.24 L252.02,196.85 A1.55,1.55 0 0 0 255.12,196.85 L255.24,192.24 L255.36,187.64 L255.48,183.03 L255.60,178.43 L255.72,173.82 L255.84,169.21 L255.95,164.61 L256.07,160.00Z"/><path d="M256.30,160.00 L256.42,164.61 L256.54,169.21 L256.65,173.82 L256.77,178.43 L256.89,183.03 L257.01,187.64 L257.13,192.24 L257.25,196.85 A1.55,1.55 0 0 0 260.35,196.85 L260.47,192.24 L260.59,187.64 L260.70,183.03 L260.82,178.43 L260.94,173.82 L261.06,169.21 L261.18,164.61 L261.30,160.00Z"/><path d="M327.92,252.70 L328.15,241.71 L328.34,230.71 L328.50,219.72 L328.64,208.72 L328.74,197.73 L328.81,186.74 L328.86,175.74 L328.87,164.75 A1.65,1.65 0 0 1 332.17,164.75 L332.19,175.74 L332.23,186.74 L332.31,197.73 L332.41,208.72 L332.54,219.72 L332.71,230.71 L332.90,241.71 L333.12,252.70Z"/><path d="M333.15,252.70 L333.37,241.43 L333.56,230.16 L333.73,218.89 L333.86,207.62 L333.96,196.36 L334.04,185.09 L334.08,173.82 L334.10,162.55 A1.65,1.65 0 0 1 337.40,162.55 L337.41,173.82 L337.46,185.09 L337.53,196.36 L337.64,207.62 L337.77,218.89 L337.93,230.16 L338.13,241.43 L338.35,252.70Z"/><path d="M338.37,252.70 L338.60,241.13 L338.79,229.56 L338.95,217.99 L339.09,206.43 L339.19,194.86 L339.26,183.29 L339.31,171.72 L339.32,160.15 A1.65,1.65 0 0 1 342.62,160.15 L342.64,171.72 L342.68,183.29 L342.76,194.86 L342.86,206.43 L342.99,217.99 L343.16,229.56 L343.35,241.13 L343.57,252.70Z"/><path d="M343.60,252.70 L343.82,241.43 L344.01,230.16 L344.18,218.89 L344.31,207.62 L344.41,196.36 L344.49,185.09 L344.53,173.82 L344.55,162.55 A1.65,1.65 0 0 1 347.85,162.55 L347.86,173.82 L347.91,185.09 L347.98,196.36 L348.09,207.62 L348.22,218.89 L348.38,230.16 L348.58,241.43 L348.80,252.70Z"/><path d="M348.82,252.70 L349.05,241.51 L349.24,230.31 L349.40,219.12 L349.54,207.93 L349.64,196.73 L349.71,185.54 L349.76,174.34 L349.77,163.15 A1.65,1.65 0 0 1 353.07,163.15 L353.09,174.34 L353.13,185.54 L353.21,196.73 L353.31,207.93 L353.44,219.12 L353.61,230.31 L353.80,241.51 L354.02,252.70Z"/><path d="M354.05,252.70 L354.27,241.43 L354.46,230.16 L354.63,218.89 L354.76,207.62 L354.86,196.36 L354.94,185.09 L354.98,173.82 L355.00,162.55 A1.65,1.65 0 0 1 358.30,162.55 L358.31,173.82 L358.36,185.09 L358.43,196.36 L358.54,207.62 L358.67,218.89 L358.83,230.16 L359.03,241.43 L359.25,252.70Z"/><path d="M359.27,252.70 L359.50,241.32 L359.69,229.94 L359.85,218.56 L359.99,207.18 L360.09,195.79 L360.16,184.41 L360.21,173.03 L360.22,161.65 A1.65,1.65 0 0 1 363.52,161.65 L363.54,173.03 L363.58,184.41 L363.66,195.79 L363.76,207.18 L363.89,218.56 L364.06,229.94 L364.25,241.32 L364.47,252.70Z"/><path d="M364.50,252.70 L364.72,241.63 L364.91,230.56 L365.08,219.49 L365.21,208.43 L365.31,197.36 L365.39,186.29 L365.43,175.22 L365.45,164.15 A1.65,1.65 0 0 1 368.75,164.15 L368.76,175.22 L368.81,186.29 L368.88,197.36 L368.99,208.43 L369.12,219.49 L369.28,230.56 L369.48,241.63 L369.70,252.70Z"/><path d="M369.72,252.70 L369.95,241.74 L370.14,230.79 L370.30,219.83 L370.44,208.88 L370.54,197.92 L370.61,186.96 L370.66,176.01 L370.67,165.05 A1.65,1.65 0 0 1 373.97,165.05 L373.99,176.01 L374.03,186.96 L374.11,197.92 L374.21,208.88 L374.34,219.83 L374.51,230.79 L374.70,241.74 L374.92,252.70Z"/><path d="M374.95,252.70 L375.17,241.43 L375.36,230.16 L375.53,218.89 L375.66,207.62 L375.76,196.36 L375.84,185.09 L375.88,173.82 L375.90,162.55 A1.65,1.65 0 0 1 379.20,162.55 L379.21,173.82 L379.26,185.09 L379.33,196.36 L379.44,207.62 L379.57,218.89 L379.73,230.16 L379.93,241.43 L380.15,252.70Z"/><path d="M380.17,252.70 L380.40,241.71 L380.59,230.71 L380.75,219.72 L380.89,208.72 L380.99,197.73 L381.06,186.74 L381.11,175.74 L381.12,164.75 A1.65,1.65 0 0 1 384.42,164.75 L384.44,175.74 L384.48,186.74 L384.56,197.73 L384.66,208.72 L384.79,219.72 L384.96,230.71 L385.15,241.71 L385.37,252.70Z"/><path d="M385.40,252.70 L385.62,241.73 L385.81,230.76 L385.98,219.79 L386.11,208.82 L386.21,197.86 L386.29,186.89 L386.33,175.92 L386.35,164.95 A1.65,1.65 0 0 1 389.65,164.95 L389.66,175.92 L389.71,186.89 L389.78,197.86 L389.89,208.82 L390.02,219.79 L390.18,230.76 L390.38,241.73 L390.60,252.70Z"/><path d="M390.62,252.70 L390.85,241.82 L391.04,230.94 L391.20,220.06 L391.34,209.18 L391.44,198.29 L391.51,187.41 L391.56,176.53 L391.57,165.65 A1.65,1.65 0 0 1 394.87,165.65 L394.89,176.53 L394.93,187.41 L395.01,198.29 L395.11,209.18 L395.24,220.06 L395.41,230.94 L395.60,241.82 L395.82,252.70Z"/><path d="M395.85,252.70 L396.07,241.37 L396.26,230.04 L396.43,218.71 L396.56,207.38 L396.66,196.04 L396.74,184.71 L396.78,173.38 L396.80,162.05 A1.65,1.65 0 0 1 400.10,162.05 L400.11,173.38 L400.16,184.71 L400.23,196.04 L400.34,207.38 L400.47,218.71 L400.63,230.04 L400.83,241.37 L401.05,252.70Z"/><path d="M401.07,252.70 L401.30,241.54 L401.49,230.39 L401.65,219.23 L401.79,208.07 L401.89,196.92 L401.96,185.76 L402.01,174.61 L402.02,163.45 A1.65,1.65 0 0 1 405.32,163.45 L405.34,174.61 L405.38,185.76 L405.46,196.92 L405.56,208.07 L405.69,219.23 L405.86,230.39 L406.05,241.54 L406.27,252.70Z"/><path d="M406.30,252.70 L406.52,241.57 L406.71,230.44 L406.88,219.31 L407.01,208.18 L407.11,197.04 L407.19,185.91 L407.23,174.78 L407.25,163.65 A1.65,1.65 0 0 1 410.55,163.65 L410.56,174.78 L410.61,185.91 L410.68,197.04 L410.79,208.18 L410.92,219.31 L411.08,230.44 L411.28,241.57 L411.50,252.70Z"/><path d="M411.52,252.70 L411.75,241.37 L411.94,230.04 L412.10,218.71 L412.24,207.38 L412.34,196.04 L412.41,184.71 L412.46,173.38 L412.47,162.05 A1.65,1.65 0 0 1 415.77,162.05 L415.79,173.38 L415.83,184.71 L415.91,196.04 L416.01,207.38 L416.14,218.71 L416.31,230.04 L416.50,241.37 L416.72,252.70Z"/><path d="M416.75,252.70 L416.97,241.37 L417.16,230.04 L417.33,218.71 L417.46,207.38 L417.56,196.04 L417.64,184.71 L417.68,173.38 L417.70,162.05 A1.65,1.65 0 0 1 421.00,162.05 L421.01,173.38 L421.06,184.71 L421.13,196.04 L421.24,207.38 L421.37,218.71 L421.53,230.04 L421.73,241.37 L421.95,252.70Z"/><path d="M421.97,252.70 L422.20,241.57 L422.39,230.44 L422.55,219.31 L422.69,208.18 L422.79,197.04 L422.86,185.91 L422.91,174.78 L422.92,163.65 A1.65,1.65 0 0 1 426.22,163.65 L426.24,174.78 L426.28,185.91 L426.36,197.04 L426.46,208.18 L426.59,219.31 L426.76,230.44 L426.95,241.57 L427.17,252.70Z"/><path d="M427.20,252.70 L427.42,241.61 L427.61,230.51 L427.78,219.42 L427.91,208.32 L428.01,197.23 L428.09,186.14 L428.13,175.04 L428.15,163.95 A1.65,1.65 0 0 1 431.45,163.95 L431.46,175.04 L431.51,186.14 L431.58,197.23 L431.69,208.32 L431.82,219.42 L431.98,230.51 L432.18,241.61 L432.40,252.70Z"/><path d="M432.42,252.70 L432.65,241.63 L432.84,230.56 L433.00,219.49 L433.14,208.43 L433.24,197.36 L433.31,186.29 L433.36,175.22 L433.37,164.15 A1.65,1.65 0 0 1 436.67,164.15 L436.69,175.22 L436.73,186.29 L436.81,197.36 L436.91,208.43 L437.04,219.49 L437.21,230.56 L437.40,241.63 L437.62,252.70Z"/><path d="M437.65,252.70 L437.87,241.68 L438.06,230.66 L438.23,219.64 L438.36,208.62 L438.46,197.61 L438.54,186.59 L438.58,175.57 L438.60,164.55 A1.65,1.65 0 0 1 441.90,164.55 L441.91,175.57 L441.96,186.59 L442.03,197.61 L442.14,208.62 L442.27,219.64 L442.43,230.66 L442.63,241.68 L442.85,252.70Z"/><path d="M442.87,252.70 L443.10,241.68 L443.29,230.66 L443.45,219.64 L443.59,208.62 L443.69,197.61 L443.76,186.59 L443.81,175.57 L443.82,164.55 A1.65,1.65 0 0 1 447.12,164.55 L447.14,175.57 L447.18,186.59 L447.26,197.61 L447.36,208.62 L447.49,219.64 L447.66,230.66 L447.85,241.68 L448.07,252.70Z"/><path d="M448.10,252.70 L448.32,241.59 L448.51,230.49 L448.68,219.38 L448.81,208.27 L448.91,197.17 L448.99,186.06 L449.03,174.96 L449.05,163.85 A1.65,1.65 0 0 1 452.35,163.85 L452.36,174.96 L452.41,186.06 L452.48,197.17 L452.59,208.27 L452.72,219.38 L452.88,230.49 L453.08,241.59 L453.30,252.70Z"/><path d="M453.32,252.70 L453.55,241.68 L453.74,230.66 L453.90,219.64 L454.04,208.62 L454.14,197.61 L454.21,186.59 L454.26,175.57 L454.27,164.55 A1.65,1.65 0 0 1 457.57,164.55 L457.59,175.57 L457.63,186.59 L457.71,197.61 L457.81,208.62 L457.94,219.64 L458.11,230.66 L458.30,241.68 L458.52,252.70Z"/><path d="M458.55,252.70 L458.77,241.68 L458.96,230.66 L459.13,219.64 L459.26,208.62 L459.36,197.61 L459.44,186.59 L459.48,175.57 L459.50,164.55 A1.65,1.65 0 0 1 462.80,164.55 L462.81,175.57 L462.86,186.59 L462.93,197.61 L463.04,208.62 L463.17,219.64 L463.33,230.66 L463.53,241.68 L463.75,252.70Z"/><path d="M463.77,252.70 L464.00,241.63 L464.19,230.56 L464.35,219.49 L464.49,208.43 L464.59,197.36 L464.66,186.29 L464.71,175.22 L464.72,164.15 A1.65,1.65 0 0 1 468.02,164.15 L468.04,175.22 L468.08,186.29 L468.16,197.36 L468.26,208.43 L468.39,219.49 L468.56,230.56 L468.75,241.63 L468.97,252.70Z"/><path d="M469.00,252.70 L469.22,241.63 L469.41,230.56 L469.58,219.49 L469.71,208.43 L469.81,197.36 L469.89,186.29 L469.93,175.22 L469.95,164.15 A1.65,1.65 0 0 1 473.25,164.15 L473.26,175.22 L473.31,186.29 L473.38,197.36 L473.49,208.43 L473.62,219.49 L473.78,230.56 L473.98,241.63 L474.20,252.70Z"/><path d="M474.22,252.70 L474.45,241.74 L474.64,230.79 L474.80,219.83 L474.94,208.88 L475.04,197.92 L475.11,186.96 L475.16,176.01 L475.17,165.05 A1.65,1.65 0 0 1 478.47,165.05 L478.49,176.01 L478.53,186.96 L478.61,197.92 L478.71,208.88 L478.84,219.83 L479.01,230.79 L479.20,241.74 L479.42,252.70Z"/><path d="M479.45,252.70 L479.67,241.54 L479.86,230.39 L480.03,219.23 L480.16,208.07 L480.26,196.92 L480.34,185.76 L480.38,174.61 L480.40,163.45 A1.65,1.65 0 0 1 483.70,163.45 L483.71,174.61 L483.76,185.76 L483.83,196.92 L483.94,208.07 L484.07,219.23 L484.23,230.39 L484.43,241.54 L484.65,252.70Z"/><path d="M484.67,252.70 L484.90,241.59 L485.09,230.49 L485.25,219.38 L485.39,208.27 L485.49,197.17 L485.56,186.06 L485.61,174.96 L485.62,163.85 A1.65,1.65 0 0 1 488.92,163.85 L488.94,174.96 L488.98,186.06 L489.06,197.17 L489.16,208.27 L489.29,219.38 L489.46,230.49 L489.65,241.59 L489.87,252.70Z"/><path d="M489.90,252.70 L490.12,241.59 L490.31,230.49 L490.48,219.38 L490.61,208.27 L490.71,197.17 L490.79,186.06 L490.83,174.96 L490.85,163.85 A1.65,1.65 0 0 1 494.15,163.85 L494.16,174.96 L494.21,186.06 L494.28,197.17 L494.39,208.27 L494.52,219.38 L494.68,230.49 L494.88,241.59 L495.10,252.70Z"/><path d="M495.12,252.70 L495.35,241.59 L495.54,230.49 L495.70,219.38 L495.84,208.27 L495.94,197.17 L496.01,186.06 L496.06,174.96 L496.07,163.85 A1.65,1.65 0 0 1 499.37,163.85 L499.39,174.96 L499.43,186.06 L499.51,197.17 L499.61,208.27 L499.74,219.38 L499.91,230.49 L500.10,241.59 L500.32,252.70Z"/><path d="M500.35,252.70 L500.57,241.59 L500.76,230.49 L500.93,219.38 L501.06,208.27 L501.16,197.17 L501.24,186.06 L501.28,174.96 L501.30,163.85 A1.65,1.65 0 0 1 504.60,163.85 L504.61,174.96 L504.66,186.06 L504.73,197.17 L504.84,208.27 L504.97,219.38 L505.13,230.49 L505.33,241.59 L505.55,252.70Z"/><path d="M505.57,252.70 L505.80,241.59 L505.99,230.49 L506.15,219.38 L506.29,208.27 L506.39,197.17 L506.46,186.06 L506.51,174.96 L506.52,163.85 A1.65,1.65 0 0 1 509.82,163.85 L509.84,174.96 L509.88,186.06 L509.96,197.17 L510.06,208.27 L510.19,219.38 L510.36,230.49 L510.55,241.59 L510.77,252.70Z"/><path d="M510.80,252.70 L511.02,241.59 L511.21,230.49 L511.38,219.38 L511.51,208.27 L511.61,197.17 L511.69,186.06 L511.73,174.96 L511.75,163.85 A1.65,1.65 0 0 1 515.05,163.85 L515.06,174.96 L515.11,186.06 L515.18,197.17 L515.29,208.27 L515.42,219.38 L515.58,230.49 L515.78,241.59 L516.00,252.70Z"/><path d="M516.02,252.70 L516.25,241.59 L516.44,230.49 L516.60,219.38 L516.74,208.27 L516.84,197.17 L516.91,186.06 L516.96,174.96 L516.97,163.85 A1.65,1.65 0 0 1 520.27,163.85 L520.29,174.96 L520.33,186.06 L520.41,197.17 L520.51,208.27 L520.64,219.38 L520.81,230.49 L521.00,241.59 L521.22,252.70Z"/><path d="M521.25,252.70 L521.47,241.59 L521.66,230.49 L521.83,219.38 L521.96,208.27 L522.06,197.17 L522.14,186.06 L522.18,174.96 L522.20,163.85 A1.65,1.65 0 0 1 525.50,163.85 L525.51,174.96 L525.56,186.06 L525.63,197.17 L525.74,208.27 L525.87,219.38 L526.03,230.49 L526.23,241.59 L526.45,252.70Z"/><path d="M526.47,252.70 L526.70,241.59 L526.89,230.49 L527.05,219.38 L527.19,208.27 L527.29,197.17 L527.36,186.06 L527.41,174.96 L527.42,163.85 A1.65,1.65 0 0 1 530.72,163.85 L530.74,174.96 L530.78,186.06 L530.86,197.17 L530.96,208.27 L531.09,219.38 L531.26,230.49 L531.45,241.59 L531.67,252.70Z"/><path d="M531.70,252.70 L531.92,241.59 L532.11,230.49 L532.28,219.38 L532.41,208.27 L532.51,197.17 L532.59,186.06 L532.63,174.96 L532.65,163.85 A1.65,1.65 0 0 1 535.95,163.85 L535.96,174.96 L536.01,186.06 L536.08,197.17 L536.19,208.27 L536.32,219.38 L536.48,230.49 L536.68,241.59 L536.90,252.70Z"/><rect x="326.5" y="249.39999999999998" width="209.0" height="3.5"/><path d="M52.42,393.00 L52.59,392.63 L52.74,392.26 L52.88,391.89 L53.01,391.52 L53.13,391.16 L53.24,390.79 L53.32,390.42 L53.37,390.05 A1.65,1.65 0 0 1 56.67,390.05 L56.72,390.42 L56.81,390.79 L56.91,391.16 L57.03,391.52 L57.17,391.89 L57.31,392.26 L57.46,392.63 L57.62,393.00Z"/><path d="M57.65,393.00 L57.81,391.76 L57.96,390.51 L58.11,389.27 L58.24,388.02 L58.36,386.78 L58.46,385.54 L58.55,384.29 L58.60,383.05 A1.65,1.65 0 0 1 61.90,383.05 L61.95,384.29 L62.03,385.54 L62.14,386.78 L62.26,388.02 L62.39,389.27 L62.53,390.51 L62.69,391.76 L62.85,393.00Z"/><path d="M62.87,393.00 L63.04,391.71 L63.19,390.41 L63.33,389.12 L63.46,387.82 L63.58,386.53 L63.69,385.24 L63.77,383.94 L63.82,382.65 A1.65,1.65 0 0 1 67.12,382.65 L67.17,383.94 L67.26,385.24 L67.36,386.53 L67.48,387.82 L67.62,389.12 L67.76,390.41 L67.91,391.71 L68.07,393.00Z"/><path d="M68.10,393.00 L68.26,390.94 L68.41,388.89 L68.56,386.83 L68.69,384.77 L68.81,382.72 L68.91,380.66 L69.00,378.61 L69.05,376.55 A1.65,1.65 0 0 1 72.35,376.55 L72.40,378.61 L72.48,380.66 L72.59,382.72 L72.71,384.77 L72.84,386.83 L72.98,388.89 L73.14,390.94 L73.30,393.00Z"/><path d="M73.32,393.00 L73.49,390.28 L73.64,387.56 L73.78,384.84 L73.91,382.12 L74.03,379.41 L74.14,376.69 L74.22,373.97 L74.27,371.25 A1.65,1.65 0 0 1 77.57,371.25 L77.62,373.97 L77.71,376.69 L77.81,379.41 L77.93,382.12 L78.07,384.84 L78.21,387.56 L78.36,390.28 L78.52,393.00Z"/><path d="M78.55,393.00 L78.71,389.73 L78.86,386.46 L79.01,383.19 L79.14,379.92 L79.26,376.66 L79.36,373.39 L79.45,370.12 L79.50,366.85 A1.65,1.65 0 0 1 82.80,366.85 L82.85,370.12 L82.93,373.39 L83.04,376.66 L83.16,379.92 L83.29,383.19 L83.43,386.46 L83.59,389.73 L83.75,393.00Z"/><path d="M83.77,393.00 L83.94,389.87 L84.09,386.74 L84.23,383.61 L84.36,380.48 L84.48,377.34 L84.59,374.21 L84.67,371.08 L84.72,367.95 A1.65,1.65 0 0 1 88.02,367.95 L88.07,371.08 L88.16,374.21 L88.26,377.34 L88.38,380.48 L88.52,383.61 L88.66,386.74 L88.81,389.87 L88.97,393.00Z"/><path d="M89.00,393.00 L89.16,389.06 L89.31,385.11 L89.46,381.17 L89.59,377.23 L89.71,373.28 L89.81,369.34 L89.90,365.39 L89.95,361.45 A1.65,1.65 0 0 1 93.25,361.45 L93.30,365.39 L93.38,369.34 L93.49,373.28 L93.61,377.23 L93.74,381.17 L93.88,385.11 L94.04,389.06 L94.20,393.00Z"/><path d="M94.22,393.00 L94.39,389.54 L94.54,386.09 L94.68,382.63 L94.81,379.17 L94.93,375.72 L95.04,372.26 L95.12,368.81 L95.17,365.35 A1.65,1.65 0 0 1 98.47,365.35 L98.52,368.81 L98.61,372.26 L98.71,375.72 L98.83,379.17 L98.97,382.63 L99.11,386.09 L99.26,389.54 L99.42,393.00Z"/><path d="M99.45,393.00 L99.61,386.97 L99.76,380.94 L99.91,374.91 L100.04,368.88 L100.16,362.84 L100.26,356.81 L100.35,350.78 L100.40,344.75 A1.65,1.65 0 0 1 103.70,344.75 L103.75,350.78 L103.83,356.81 L103.94,362.84 L104.06,368.88 L104.19,374.91 L104.33,380.94 L104.49,386.97 L104.65,393.00Z"/><path d="M104.67,393.00 L104.84,388.92 L104.99,384.84 L105.13,380.76 L105.26,376.67 L105.38,372.59 L105.49,368.51 L105.57,364.43 L105.62,360.35 A1.65,1.65 0 0 1 108.92,360.35 L108.97,364.43 L109.06,368.51 L109.16,372.59 L109.28,376.67 L109.42,380.76 L109.56,384.84 L109.71,388.92 L109.87,393.00Z"/><path d="M109.90,393.00 L110.06,388.83 L110.21,384.66 L110.36,380.49 L110.49,376.32 L110.61,372.16 L110.71,367.99 L110.80,363.82 L110.85,359.65 A1.65,1.65 0 0 1 114.15,359.65 L114.20,363.82 L114.28,367.99 L114.39,372.16 L114.51,376.32 L114.64,380.49 L114.78,384.66 L114.94,388.83 L115.10,393.00Z"/><path d="M115.12,393.00 L115.29,388.83 L115.44,384.66 L115.58,380.49 L115.71,376.32 L115.83,372.16 L115.94,367.99 L116.02,363.82 L116.07,359.65 A1.65,1.65 0 0 1 119.37,359.65 L119.42,363.82 L119.51,367.99 L119.61,372.16 L119.73,376.32 L119.87,380.49 L120.01,384.66 L120.16,388.83 L120.32,393.00Z"/><path d="M120.35,393.00 L120.51,386.44 L120.66,379.89 L120.81,373.33 L120.94,366.77 L121.06,360.22 L121.16,353.66 L121.25,347.11 L121.30,340.55 A1.65,1.65 0 0 1 124.60,340.55 L124.65,347.11 L124.73,353.66 L124.84,360.22 L124.96,366.77 L125.09,373.33 L125.23,379.89 L125.39,386.44 L125.55,393.00Z"/><path d="M125.57,393.00 L125.74,383.77 L125.89,374.54 L126.03,365.31 L126.16,356.07 L126.28,346.84 L126.39,337.61 L126.47,328.38 L126.52,319.15 A1.65,1.65 0 0 1 129.82,319.15 L129.87,328.38 L129.96,337.61 L130.06,346.84 L130.18,356.07 L130.32,365.31 L130.46,374.54 L130.61,383.77 L130.77,393.00Z"/><path d="M130.80,393.00 L130.96,383.62 L131.11,374.24 L131.26,364.86 L131.39,355.48 L131.51,346.09 L131.61,336.71 L131.70,327.33 L131.75,317.95 A1.65,1.65 0 0 1 135.05,317.95 L135.10,327.33 L135.18,336.71 L135.29,346.09 L135.41,355.48 L135.54,364.86 L135.68,374.24 L135.84,383.62 L136.00,393.00Z"/><path d="M136.02,393.00 L136.19,383.53 L136.34,374.06 L136.48,364.59 L136.61,355.12 L136.73,345.66 L136.84,336.19 L136.92,326.72 L136.97,317.25 A1.65,1.65 0 0 1 140.27,317.25 L140.32,326.72 L140.41,336.19 L140.51,345.66 L140.63,355.12 L140.77,364.59 L140.91,374.06 L141.06,383.53 L141.22,393.00Z"/><path d="M141.25,393.00 L141.41,383.18 L141.56,373.36 L141.71,363.54 L141.84,353.73 L141.96,343.91 L142.06,334.09 L142.15,324.27 L142.20,314.45 A1.65,1.65 0 0 1 145.50,314.45 L145.55,324.27 L145.63,334.09 L145.74,343.91 L145.86,353.73 L145.99,363.54 L146.13,373.36 L146.29,383.18 L146.45,393.00Z"/><path d="M146.47,393.00 L146.64,383.24 L146.79,373.49 L146.93,363.73 L147.06,353.98 L147.18,344.22 L147.29,334.46 L147.37,324.71 L147.42,314.95 A1.65,1.65 0 0 1 150.72,314.95 L150.77,324.71 L150.86,334.46 L150.96,344.22 L151.08,353.98 L151.22,363.73 L151.36,373.49 L151.51,383.24 L151.67,393.00Z"/><path d="M151.70,393.00 L151.86,383.04 L152.01,373.09 L152.16,363.13 L152.29,353.17 L152.41,343.22 L152.51,333.26 L152.60,323.31 L152.65,313.35 A1.65,1.65 0 0 1 155.95,313.35 L156.00,323.31 L156.08,333.26 L156.19,343.22 L156.31,353.17 L156.44,363.13 L156.58,373.09 L156.74,383.04 L156.90,393.00Z"/><path d="M156.92,393.00 L157.09,383.01 L157.24,373.01 L157.38,363.02 L157.51,353.02 L157.63,343.03 L157.74,333.04 L157.82,323.04 L157.87,313.05 A1.65,1.65 0 0 1 161.17,313.05 L161.22,323.04 L161.31,333.04 L161.41,343.03 L161.53,353.02 L161.67,363.02 L161.81,373.01 L161.96,383.01 L162.12,393.00Z"/><path d="M162.15,393.00 L162.31,385.22 L162.46,377.44 L162.61,369.66 L162.74,361.88 L162.86,354.09 L162.96,346.31 L163.05,338.53 L163.10,330.75 A1.65,1.65 0 0 1 166.40,330.75 L166.45,338.53 L166.53,346.31 L166.64,354.09 L166.76,361.88 L166.89,369.66 L167.03,377.44 L167.19,385.22 L167.35,393.00Z"/><path d="M167.37,393.00 L167.54,382.52 L167.69,372.04 L167.83,361.56 L167.96,351.07 L168.08,340.59 L168.19,330.11 L168.27,319.63 L168.32,309.15 A1.65,1.65 0 0 1 171.62,309.15 L171.67,319.63 L171.76,330.11 L171.86,340.59 L171.98,351.07 L172.12,361.56 L172.26,372.04 L172.41,382.52 L172.57,393.00Z"/><path d="M172.60,393.00 L172.76,382.23 L172.91,371.46 L173.06,360.69 L173.19,349.92 L173.31,339.16 L173.41,328.39 L173.50,317.62 L173.55,306.85 A1.65,1.65 0 0 1 176.85,306.85 L176.90,317.62 L176.98,328.39 L177.09,339.16 L177.21,349.92 L177.34,360.69 L177.48,371.46 L177.64,382.23 L177.80,393.00Z"/><path d="M177.82,393.00 L177.99,383.77 L178.14,374.54 L178.28,365.31 L178.41,356.07 L178.53,346.84 L178.64,337.61 L178.72,328.38 L178.77,319.15 A1.65,1.65 0 0 1 182.07,319.15 L182.12,328.38 L182.21,337.61 L182.31,346.84 L182.43,356.07 L182.57,365.31 L182.71,374.54 L182.86,383.77 L183.02,393.00Z"/><path d="M183.05,393.00 L183.21,383.74 L183.36,374.49 L183.51,365.23 L183.64,355.98 L183.76,346.72 L183.86,337.46 L183.95,328.21 L184.00,318.95 A1.65,1.65 0 0 1 187.30,318.95 L187.35,328.21 L187.43,337.46 L187.54,346.72 L187.66,355.98 L187.79,365.23 L187.93,374.49 L188.09,383.74 L188.25,393.00Z"/><path d="M188.27,393.00 L188.44,383.53 L188.59,374.06 L188.73,364.59 L188.86,355.12 L188.98,345.66 L189.09,336.19 L189.17,326.72 L189.22,317.25 A1.65,1.65 0 0 1 192.52,317.25 L192.57,326.72 L192.66,336.19 L192.76,345.66 L192.88,355.12 L193.02,364.59 L193.16,374.06 L193.31,383.53 L193.47,393.00Z"/><path d="M193.50,393.00 L193.66,383.48 L193.81,373.96 L193.96,364.44 L194.09,354.92 L194.21,345.41 L194.31,335.89 L194.40,326.37 L194.45,316.85 A1.65,1.65 0 0 1 197.75,316.85 L197.80,326.37 L197.88,335.89 L197.99,345.41 L198.11,354.92 L198.24,364.44 L198.38,373.96 L198.54,383.48 L198.70,393.00Z"/><path d="M198.72,393.00 L198.89,383.59 L199.04,374.19 L199.18,364.78 L199.31,355.38 L199.43,345.97 L199.54,336.56 L199.62,327.16 L199.67,317.75 A1.65,1.65 0 0 1 202.97,317.75 L203.02,327.16 L203.11,336.56 L203.21,345.97 L203.33,355.38 L203.47,364.78 L203.61,374.19 L203.76,383.59 L203.92,393.00Z"/><path d="M203.95,393.00 L204.11,383.01 L204.26,373.01 L204.41,363.02 L204.54,353.02 L204.66,343.03 L204.76,333.04 L204.85,323.04 L204.90,313.05 A1.65,1.65 0 0 1 208.20,313.05 L208.25,323.04 L208.33,333.04 L208.44,343.03 L208.56,353.02 L208.69,363.02 L208.83,373.01 L208.99,383.01 L209.15,393.00Z"/><path d="M209.17,393.00 L209.34,382.92 L209.49,372.84 L209.63,362.76 L209.76,352.67 L209.88,342.59 L209.99,332.51 L210.07,322.43 L210.12,312.35 A1.65,1.65 0 0 1 213.42,312.35 L213.47,322.43 L213.56,332.51 L213.66,342.59 L213.78,352.67 L213.92,362.76 L214.06,372.84 L214.21,382.92 L214.37,393.00Z"/><path d="M214.40,393.00 L214.56,382.92 L214.71,372.84 L214.86,362.76 L214.99,352.67 L215.11,342.59 L215.21,332.51 L215.30,322.43 L215.35,312.35 A1.65,1.65 0 0 1 218.65,312.35 L218.70,322.43 L218.78,332.51 L218.89,342.59 L219.01,352.67 L219.14,362.76 L219.28,372.84 L219.44,382.92 L219.60,393.00Z"/><path d="M219.62,393.00 L219.79,382.92 L219.94,372.84 L220.08,362.76 L220.21,352.67 L220.33,342.59 L220.44,332.51 L220.52,322.43 L220.57,312.35 A1.65,1.65 0 0 1 223.87,312.35 L223.92,322.43 L224.01,332.51 L224.11,342.59 L224.23,352.67 L224.37,362.76 L224.51,372.84 L224.66,382.92 L224.82,393.00Z"/><path d="M224.85,393.00 L225.01,382.92 L225.16,372.84 L225.31,362.76 L225.44,352.67 L225.56,342.59 L225.66,332.51 L225.75,322.43 L225.80,312.35 A1.65,1.65 0 0 1 229.10,312.35 L229.15,322.43 L229.23,332.51 L229.34,342.59 L229.46,352.67 L229.59,362.76 L229.73,372.84 L229.89,382.92 L230.05,393.00Z"/><path d="M230.07,393.00 L230.24,382.92 L230.39,372.84 L230.53,362.76 L230.66,352.67 L230.78,342.59 L230.89,332.51 L230.97,322.43 L231.02,312.35 A1.65,1.65 0 0 1 234.32,312.35 L234.37,322.43 L234.46,332.51 L234.56,342.59 L234.68,352.67 L234.82,362.76 L234.96,372.84 L235.11,382.92 L235.27,393.00Z"/><path d="M235.30,393.00 L235.46,382.92 L235.61,372.84 L235.76,362.76 L235.89,352.67 L236.01,342.59 L236.11,332.51 L236.20,322.43 L236.25,312.35 A1.65,1.65 0 0 1 239.55,312.35 L239.60,322.43 L239.68,332.51 L239.79,342.59 L239.91,352.67 L240.04,362.76 L240.18,372.84 L240.34,382.92 L240.50,393.00Z"/><path d="M240.52,393.00 L240.69,382.92 L240.84,372.84 L240.98,362.76 L241.11,352.67 L241.23,342.59 L241.34,332.51 L241.42,322.43 L241.47,312.35 A1.65,1.65 0 0 1 244.77,312.35 L244.82,322.43 L244.91,332.51 L245.01,342.59 L245.13,352.67 L245.27,362.76 L245.41,372.84 L245.56,382.92 L245.72,393.00Z"/><path d="M245.75,393.00 L245.91,382.92 L246.06,372.84 L246.21,362.76 L246.34,352.67 L246.46,342.59 L246.56,332.51 L246.65,322.43 L246.70,312.35 A1.65,1.65 0 0 1 250.00,312.35 L250.05,322.43 L250.13,332.51 L250.24,342.59 L250.36,352.67 L250.49,362.76 L250.63,372.84 L250.79,382.92 L250.95,393.00Z"/><path d="M250.97,393.00 L251.14,382.92 L251.29,372.84 L251.43,362.76 L251.56,352.67 L251.68,342.59 L251.79,332.51 L251.87,322.43 L251.92,312.35 A1.65,1.65 0 0 1 255.22,312.35 L255.27,322.43 L255.36,332.51 L255.46,342.59 L255.58,352.67 L255.72,362.76 L255.86,372.84 L256.01,382.92 L256.17,393.00Z"/><path d="M256.20,393.00 L256.36,382.92 L256.51,372.84 L256.66,362.76 L256.79,352.67 L256.91,342.59 L257.01,332.51 L257.10,322.43 L257.15,312.35 A1.65,1.65 0 0 1 260.45,312.35 L260.50,322.43 L260.58,332.51 L260.69,342.59 L260.81,352.67 L260.94,362.76 L261.08,372.84 L261.24,382.92 L261.40,393.00Z"/><rect x="51.0" y="389.7" width="209.0" height="3.3"/><path d="M326.5,298.9 H534.2 L536.7,300.8 V303.5 H326.5 Z"/><path d="M327.92,301.50 L328.03,311.56 L328.14,321.61 L328.24,331.67 L328.35,341.73 L328.45,351.78 L328.56,361.84 L328.67,371.89 L328.77,381.95 A1.75,1.75 0 0 0 332.27,381.95 L332.38,371.89 L332.49,361.84 L332.59,351.78 L332.70,341.73 L332.80,331.67 L332.91,321.61 L333.02,311.56 L333.12,301.50Z"/><path d="M333.15,301.50 L333.25,312.57 L333.36,323.64 L333.47,334.71 L333.57,345.77 L333.68,356.84 L333.79,367.91 L333.89,378.98 L334.00,390.05 A1.75,1.75 0 0 0 337.50,390.05 L337.60,378.98 L337.71,367.91 L337.82,356.84 L337.92,345.77 L338.03,334.71 L338.14,323.64 L338.24,312.57 L338.35,301.50Z"/><path d="M338.37,301.50 L338.48,310.39 L338.59,319.29 L338.69,328.18 L338.80,337.08 L338.90,345.97 L339.01,354.86 L339.12,363.76 L339.22,372.65 A1.75,1.75 0 0 0 342.72,372.65 L342.83,363.76 L342.94,354.86 L343.04,345.97 L343.15,337.08 L343.25,328.18 L343.36,319.29 L343.47,310.39 L343.57,301.50Z"/><path d="M343.60,301.50 L343.70,312.08 L343.81,322.66 L343.92,333.24 L344.02,343.83 L344.13,354.41 L344.24,364.99 L344.34,375.57 L344.45,386.15 A1.75,1.75 0 0 0 347.95,386.15 L348.05,375.57 L348.16,364.99 L348.27,354.41 L348.37,343.83 L348.48,333.24 L348.59,322.66 L348.69,312.08 L348.80,301.50Z"/><path d="M348.82,301.50 L348.93,312.57 L349.04,323.64 L349.14,334.71 L349.25,345.77 L349.35,356.84 L349.46,367.91 L349.57,378.98 L349.67,390.05 A1.75,1.75 0 0 0 353.17,390.05 L353.28,378.98 L353.39,367.91 L353.49,356.84 L353.60,345.77 L353.70,334.71 L353.81,323.64 L353.92,312.57 L354.02,301.50Z"/><path d="M354.05,301.50 L354.15,311.69 L354.26,321.89 L354.37,332.08 L354.47,342.27 L354.58,352.47 L354.69,362.66 L354.79,372.86 L354.90,383.05 A1.75,1.75 0 0 0 358.40,383.05 L358.50,372.86 L358.61,362.66 L358.72,352.47 L358.82,342.27 L358.93,332.08 L359.04,321.89 L359.14,311.69 L359.25,301.50Z"/><path d="M359.27,301.50 L359.38,309.67 L359.49,317.84 L359.59,326.01 L359.70,334.18 L359.80,342.34 L359.91,350.51 L360.02,358.68 L360.12,366.85 A1.75,1.75 0 0 0 363.62,366.85 L363.73,358.68 L363.84,350.51 L363.94,342.34 L364.05,334.18 L364.15,326.01 L364.26,317.84 L364.37,309.67 L364.47,301.50Z"/><path d="M364.50,301.50 L364.60,310.33 L364.71,319.16 L364.82,327.99 L364.92,336.83 L365.03,345.66 L365.14,354.49 L365.24,363.32 L365.35,372.15 A1.75,1.75 0 0 0 368.85,372.15 L368.95,363.32 L369.06,354.49 L369.17,345.66 L369.27,336.83 L369.38,327.99 L369.49,319.16 L369.59,310.33 L369.70,301.50Z"/><path d="M369.72,301.50 L369.83,308.07 L369.94,314.64 L370.04,321.21 L370.15,327.77 L370.25,334.34 L370.36,340.91 L370.47,347.48 L370.57,354.05 A1.75,1.75 0 0 0 374.07,354.05 L374.18,347.48 L374.29,340.91 L374.39,334.34 L374.50,327.77 L374.60,321.21 L374.71,314.64 L374.82,308.07 L374.92,301.50Z"/><path d="M374.95,301.50 L375.05,311.91 L375.16,322.31 L375.27,332.72 L375.37,343.12 L375.48,353.53 L375.59,363.94 L375.69,374.34 L375.80,384.75 A1.75,1.75 0 0 0 379.30,384.75 L379.40,374.34 L379.51,363.94 L379.62,353.53 L379.72,343.12 L379.83,332.72 L379.94,322.31 L380.04,311.91 L380.15,301.50Z"/><path d="M380.17,301.50 L380.28,307.54 L380.39,313.59 L380.49,319.63 L380.60,325.68 L380.70,331.72 L380.81,337.76 L380.92,343.81 L381.02,349.85 A1.75,1.75 0 0 0 384.52,349.85 L384.63,343.81 L384.74,337.76 L384.84,331.72 L384.95,325.68 L385.05,319.63 L385.16,313.59 L385.27,307.54 L385.37,301.50Z"/><path d="M385.40,301.50 L385.50,307.13 L385.61,312.76 L385.72,318.39 L385.82,324.02 L385.93,329.66 L386.04,335.29 L386.14,340.92 L386.25,346.55 A1.75,1.75 0 0 0 389.75,346.55 L389.85,340.92 L389.96,335.29 L390.07,329.66 L390.17,324.02 L390.28,318.39 L390.39,312.76 L390.49,307.13 L390.60,301.50Z"/><path d="M390.62,301.50 L390.73,306.67 L390.84,311.84 L390.94,317.01 L391.05,322.18 L391.15,327.34 L391.26,332.51 L391.37,337.68 L391.47,342.85 A1.75,1.75 0 0 0 394.97,342.85 L395.08,337.68 L395.19,332.51 L395.29,327.34 L395.40,322.18 L395.50,317.01 L395.61,311.84 L395.72,306.67 L395.82,301.50Z"/><path d="M395.85,301.50 L395.95,308.99 L396.06,316.49 L396.17,323.98 L396.27,331.48 L396.38,338.97 L396.49,346.46 L396.59,353.96 L396.70,361.45 A1.75,1.75 0 0 0 400.20,361.45 L400.30,353.96 L400.41,346.46 L400.52,338.97 L400.62,331.48 L400.73,323.98 L400.84,316.49 L400.94,308.99 L401.05,301.50Z"/><path d="M401.07,301.50 L401.18,311.41 L401.29,321.31 L401.39,331.22 L401.50,341.12 L401.60,351.03 L401.71,360.94 L401.82,370.84 L401.92,380.75 A1.75,1.75 0 0 0 405.42,380.75 L405.53,370.84 L405.64,360.94 L405.74,351.03 L405.85,341.12 L405.95,331.22 L406.06,321.31 L406.17,311.41 L406.27,301.50Z"/><path d="M406.30,301.50 L406.40,310.99 L406.51,320.49 L406.62,329.98 L406.72,339.48 L406.83,348.97 L406.94,358.46 L407.04,367.96 L407.15,377.45 A1.75,1.75 0 0 0 410.65,377.45 L410.75,367.96 L410.86,358.46 L410.97,348.97 L411.07,339.48 L411.18,329.98 L411.29,320.49 L411.39,310.99 L411.50,301.50Z"/><path d="M411.52,301.50 L411.63,310.53 L411.74,319.56 L411.84,328.59 L411.95,337.62 L412.05,346.66 L412.16,355.69 L412.27,364.72 L412.37,373.75 A1.75,1.75 0 0 0 415.87,373.75 L415.98,364.72 L416.09,355.69 L416.19,346.66 L416.30,337.62 L416.40,328.59 L416.51,319.56 L416.62,310.53 L416.72,301.50Z"/><path d="M416.75,301.50 L416.85,310.48 L416.96,319.46 L417.07,328.44 L417.17,337.43 L417.28,346.41 L417.39,355.39 L417.49,364.37 L417.60,373.35 A1.75,1.75 0 0 0 421.10,373.35 L421.20,364.37 L421.31,355.39 L421.42,346.41 L421.52,337.43 L421.63,328.44 L421.74,319.46 L421.84,310.48 L421.95,301.50Z"/><path d="M421.97,301.50 L422.08,310.09 L422.19,318.69 L422.29,327.28 L422.40,335.88 L422.50,344.47 L422.61,353.06 L422.72,361.66 L422.82,370.25 A1.75,1.75 0 0 0 426.32,370.25 L426.43,361.66 L426.54,353.06 L426.64,344.47 L426.75,335.88 L426.85,327.28 L426.96,318.69 L427.07,310.09 L427.17,301.50Z"/><path d="M427.20,301.50 L427.30,310.04 L427.41,318.59 L427.52,327.13 L427.62,335.68 L427.73,344.22 L427.84,352.76 L427.94,361.31 L428.05,369.85 A1.75,1.75 0 0 0 431.55,369.85 L431.65,361.31 L431.76,352.76 L431.87,344.22 L431.97,335.68 L432.08,327.13 L432.19,318.59 L432.29,310.04 L432.40,301.50Z"/><path d="M432.42,301.50 L432.53,309.87 L432.64,318.24 L432.74,326.61 L432.85,334.98 L432.95,343.34 L433.06,351.71 L433.17,360.08 L433.27,368.45 A1.75,1.75 0 0 0 436.77,368.45 L436.88,360.08 L436.99,351.71 L437.09,343.34 L437.20,334.98 L437.30,326.61 L437.41,318.24 L437.52,309.87 L437.62,301.50Z"/><path d="M437.65,301.50 L437.75,307.83 L437.86,314.16 L437.97,320.49 L438.07,326.83 L438.18,333.16 L438.29,339.49 L438.39,345.82 L438.50,352.15 A1.75,1.75 0 0 0 442.00,352.15 L442.10,345.82 L442.21,339.49 L442.32,333.16 L442.42,326.83 L442.53,320.49 L442.64,314.16 L442.74,307.83 L442.85,301.50Z"/><path d="M442.87,301.50 L442.98,309.67 L443.09,317.84 L443.19,326.01 L443.30,334.18 L443.40,342.34 L443.51,350.51 L443.62,358.68 L443.72,366.85 A1.75,1.75 0 0 0 447.22,366.85 L447.33,358.68 L447.44,350.51 L447.54,342.34 L447.65,334.18 L447.75,326.01 L447.86,317.84 L447.97,309.67 L448.07,301.50Z"/><path d="M448.10,301.50 L448.20,309.67 L448.31,317.84 L448.42,326.01 L448.52,334.18 L448.63,342.34 L448.74,350.51 L448.84,358.68 L448.95,366.85 A1.75,1.75 0 0 0 452.45,366.85 L452.55,358.68 L452.66,350.51 L452.77,342.34 L452.87,334.18 L452.98,326.01 L453.09,317.84 L453.19,309.67 L453.30,301.50Z"/><path d="M453.32,301.50 L453.43,308.51 L453.54,315.51 L453.64,322.52 L453.75,329.52 L453.85,336.53 L453.96,343.54 L454.07,350.54 L454.17,357.55 A1.75,1.75 0 0 0 457.67,357.55 L457.78,350.54 L457.89,343.54 L457.99,336.53 L458.10,329.52 L458.20,322.52 L458.31,315.51 L458.42,308.51 L458.52,301.50Z"/><path d="M458.55,301.50 L458.65,308.59 L458.76,315.69 L458.87,322.78 L458.97,329.88 L459.08,336.97 L459.19,344.06 L459.29,351.16 L459.40,358.25 A1.75,1.75 0 0 0 462.90,358.25 L463.00,351.16 L463.11,344.06 L463.22,336.97 L463.32,329.88 L463.43,322.78 L463.54,315.69 L463.64,308.59 L463.75,301.50Z"/><path d="M463.77,301.50 L463.88,308.64 L463.99,315.79 L464.09,322.93 L464.20,330.08 L464.30,337.22 L464.41,344.36 L464.52,351.51 L464.62,358.65 A1.75,1.75 0 0 0 468.12,358.65 L468.23,351.51 L468.34,344.36 L468.44,337.22 L468.55,330.08 L468.65,322.93 L468.76,315.79 L468.87,308.64 L468.97,301.50Z"/><path d="M469.00,301.50 L469.10,308.59 L469.21,315.69 L469.32,322.78 L469.42,329.88 L469.53,336.97 L469.64,344.06 L469.74,351.16 L469.85,358.25 A1.75,1.75 0 0 0 473.35,358.25 L473.45,351.16 L473.56,344.06 L473.67,336.97 L473.77,329.88 L473.88,322.78 L473.99,315.69 L474.09,308.59 L474.20,301.50Z"/><path d="M474.22,301.50 L474.33,308.36 L474.44,315.21 L474.54,322.07 L474.65,328.93 L474.75,335.78 L474.86,342.64 L474.97,349.49 L475.07,356.35 A1.75,1.75 0 0 0 478.57,356.35 L478.68,349.49 L478.79,342.64 L478.89,335.78 L479.00,328.93 L479.10,322.07 L479.21,315.21 L479.32,308.36 L479.42,301.50Z"/><path d="M479.45,301.50 L479.55,308.79 L479.66,316.09 L479.77,323.38 L479.87,330.68 L479.98,337.97 L480.09,345.26 L480.19,352.56 L480.30,359.85 A1.75,1.75 0 0 0 483.80,359.85 L483.90,352.56 L484.01,345.26 L484.12,337.97 L484.22,330.68 L484.33,323.38 L484.44,316.09 L484.54,308.79 L484.65,301.50Z"/><path d="M484.67,301.50 L484.78,308.76 L484.89,316.01 L484.99,323.27 L485.10,330.52 L485.20,337.78 L485.31,345.04 L485.42,352.29 L485.52,359.55 A1.75,1.75 0 0 0 489.02,359.55 L489.13,352.29 L489.24,345.04 L489.34,337.78 L489.45,330.52 L489.55,323.27 L489.66,316.01 L489.77,308.76 L489.87,301.50Z"/><path d="M489.90,301.50 L490.00,308.76 L490.11,316.01 L490.22,323.27 L490.32,330.52 L490.43,337.78 L490.54,345.04 L490.64,352.29 L490.75,359.55 A1.75,1.75 0 0 0 494.25,359.55 L494.35,352.29 L494.46,345.04 L494.57,337.78 L494.67,330.52 L494.78,323.27 L494.89,316.01 L494.99,308.76 L495.10,301.50Z"/><path d="M495.12,301.50 L495.23,308.76 L495.34,316.01 L495.44,323.27 L495.55,330.52 L495.65,337.78 L495.76,345.04 L495.87,352.29 L495.97,359.55 A1.75,1.75 0 0 0 499.47,359.55 L499.58,352.29 L499.69,345.04 L499.79,337.78 L499.90,330.52 L500.00,323.27 L500.11,316.01 L500.22,308.76 L500.32,301.50Z"/><path d="M500.35,301.50 L500.45,308.76 L500.56,316.01 L500.67,323.27 L500.77,330.52 L500.88,337.78 L500.99,345.04 L501.09,352.29 L501.20,359.55 A1.75,1.75 0 0 0 504.70,359.55 L504.80,352.29 L504.91,345.04 L505.02,337.78 L505.12,330.52 L505.23,323.27 L505.34,316.01 L505.44,308.76 L505.55,301.50Z"/><path d="M505.57,301.50 L505.68,308.76 L505.79,316.01 L505.89,323.27 L506.00,330.52 L506.10,337.78 L506.21,345.04 L506.32,352.29 L506.42,359.55 A1.75,1.75 0 0 0 509.92,359.55 L510.03,352.29 L510.14,345.04 L510.24,337.78 L510.35,330.52 L510.45,323.27 L510.56,316.01 L510.67,308.76 L510.77,301.50Z"/><path d="M510.80,301.50 L510.90,308.76 L511.01,316.01 L511.12,323.27 L511.22,330.52 L511.33,337.78 L511.44,345.04 L511.54,352.29 L511.65,359.55 A1.75,1.75 0 0 0 515.15,359.55 L515.25,352.29 L515.36,345.04 L515.47,337.78 L515.57,330.52 L515.68,323.27 L515.79,316.01 L515.89,308.76 L516.00,301.50Z"/><path d="M516.02,301.50 L516.13,308.76 L516.24,316.01 L516.34,323.27 L516.45,330.52 L516.55,337.78 L516.66,345.04 L516.77,352.29 L516.87,359.55 A1.75,1.75 0 0 0 520.37,359.55 L520.48,352.29 L520.59,345.04 L520.69,337.78 L520.80,330.52 L520.90,323.27 L521.01,316.01 L521.12,308.76 L521.22,301.50Z"/><path d="M521.25,301.50 L521.35,308.76 L521.46,316.01 L521.57,323.27 L521.67,330.52 L521.78,337.78 L521.89,345.04 L521.99,352.29 L522.10,359.55 A1.75,1.75 0 0 0 525.60,359.55 L525.70,352.29 L525.81,345.04 L525.92,337.78 L526.02,330.52 L526.13,323.27 L526.24,316.01 L526.34,308.76 L526.45,301.50Z"/><path d="M526.47,301.50 L526.58,308.76 L526.69,316.01 L526.79,323.27 L526.90,330.52 L527.00,337.78 L527.11,345.04 L527.22,352.29 L527.32,359.55 A1.75,1.75 0 0 0 530.82,359.55 L530.93,352.29 L531.04,345.04 L531.14,337.78 L531.25,330.52 L531.35,323.27 L531.46,316.01 L531.57,308.76 L531.67,301.50Z"/><path d="M531.70,301.50 L531.80,308.76 L531.91,316.01 L532.02,323.27 L532.12,330.52 L532.23,337.78 L532.34,345.04 L532.44,352.29 L532.55,359.55 A1.75,1.75 0 0 0 536.05,359.55 L536.15,352.29 L536.26,345.04 L536.37,337.78 L536.47,330.52 L536.58,323.27 L536.69,316.01 L536.79,308.76 L536.90,301.50Z"/><path d="M326.9,301 L327.6,340 L328.7,381.2 L330.52,381.7 L330.52,301 Z"/>
</g>
<text transform="translate(47.10,116.30) scale(0.92,1)" text-anchor="end" class="tk">0</text><text transform="translate(47.10,71.35) scale(0.92,1)" text-anchor="end" class="tk">0.5</text><text transform="translate(47.10,25.80) scale(0.92,1)" text-anchor="end" class="tk">1</text><text transform="translate(51.00,127.70) scale(0.92,1)" text-anchor="middle" class="tk">0</text><text transform="translate(103.25,127.70) scale(0.92,1)" text-anchor="middle" class="tk">0.005</text><text transform="translate(155.50,127.70) scale(0.92,1)" text-anchor="middle" class="tk">0.01</text><text transform="translate(207.75,127.70) scale(0.92,1)" text-anchor="middle" class="tk">0.015</text><text transform="translate(260.00,127.70) scale(0.92,1)" text-anchor="middle" class="tk">0.02</text><text x="155.5" y="141.9" text-anchor="middle" class="xl">time(sec)</text><g transform="translate(24.58,73.85) rotate(-90)"><text x="0" y="0" class="yl">F<tspan class="s1" dx="-0.9" dy="1.8">1</tspan><tspan class="s2" dx="-0.3" dy="2.3">1</tspan></text></g><text transform="translate(322.60,26.10) scale(0.92,1)" text-anchor="end" class="tk">0</text><text transform="translate(322.60,70.60) scale(0.92,1)" text-anchor="end" class="tk">-10</text><text transform="translate(322.60,115.20) scale(0.92,1)" text-anchor="end" class="tk">-20</text><text transform="translate(326.50,127.70) scale(0.92,1)" text-anchor="middle" class="tk">0</text><text transform="translate(378.75,127.70) scale(0.92,1)" text-anchor="middle" class="tk">0.005</text><text transform="translate(431.00,127.70) scale(0.92,1)" text-anchor="middle" class="tk">0.01</text><text transform="translate(483.25,127.70) scale(0.92,1)" text-anchor="middle" class="tk">0.015</text><text transform="translate(535.50,127.70) scale(0.92,1)" text-anchor="middle" class="tk">0.02</text><text x="431.0" y="141.9" text-anchor="middle" class="xl">time(sec)</text><g transform="translate(299.04,73.85) rotate(-90)"><text x="0" y="0" class="yl">F<tspan class="s1" dx="-0.9" dy="1.8">1</tspan><tspan class="s2" dx="-0.3" dy="2.3">2</tspan></text></g><text x="327.4" y="18.1" class="ex ex3">&#215;</text><text transform="translate(336.6,16.8) scale(0.93,1)" class="ex ex2">10</text><text x="349.5" y="9.6" class="ex exs">-</text><text x="352.2" y="10.9" class="ex exs">3</text><text transform="translate(47.10,164.70) scale(0.92,1)" text-anchor="end" class="tk">0</text><text transform="translate(47.10,193.80) scale(0.92,1)" text-anchor="end" class="tk">-0.01</text><text transform="translate(47.10,222.40) scale(0.92,1)" text-anchor="end" class="tk">-0.02</text><text transform="translate(47.10,251.70) scale(0.92,1)" text-anchor="end" class="tk">-0.03</text><text transform="translate(51.00,268.30) scale(0.92,1)" text-anchor="middle" class="tk">0</text><text transform="translate(103.25,268.30) scale(0.92,1)" text-anchor="middle" class="tk">0.005</text><text transform="translate(155.50,268.30) scale(0.92,1)" text-anchor="middle" class="tk">0.01</text><text transform="translate(207.75,268.30) scale(0.92,1)" text-anchor="middle" class="tk">0.015</text><text transform="translate(260.00,268.30) scale(0.92,1)" text-anchor="middle" class="tk">0.02</text><text x="155.5" y="282.5" text-anchor="middle" class="xl">time(sec)</text><g transform="translate(14.16,214.4) rotate(-90)"><text x="0" y="0" class="yl">F<tspan class="s1" dx="-0.9" dy="1.8">2</tspan><tspan class="s2" dx="-0.3" dy="2.3">1</tspan></text></g><text transform="translate(322.60,256.80) scale(0.92,1)" text-anchor="end" class="tk">0</text><text transform="translate(322.60,213.60) scale(0.92,1)" text-anchor="end" class="tk">0.5</text><text transform="translate(322.60,170.30) scale(0.92,1)" text-anchor="end" class="tk">1</text><text transform="translate(326.50,268.30) scale(0.92,1)" text-anchor="middle" class="tk">0</text><text transform="translate(378.75,268.30) scale(0.92,1)" text-anchor="middle" class="tk">0.005</text><text transform="translate(431.00,268.30) scale(0.92,1)" text-anchor="middle" class="tk">0.01</text><text transform="translate(483.25,268.30) scale(0.92,1)" text-anchor="middle" class="tk">0.015</text><text transform="translate(535.50,268.30) scale(0.92,1)" text-anchor="middle" class="tk">0.02</text><text x="431.0" y="282.5" text-anchor="middle" class="xl">time(sec)</text><g transform="translate(300.07,214.4) rotate(-90)"><text x="0" y="0" class="yl">F<tspan class="s1" dx="-0.9" dy="1.8">2</tspan><tspan class="s2" dx="-0.3" dy="2.3">2</tspan></text></g><text transform="translate(47.10,396.40) scale(0.92,1)" text-anchor="end" class="tk">0</text><text transform="translate(47.10,366.10) scale(0.92,1)" text-anchor="end" class="tk">1</text><text transform="translate(47.10,335.90) scale(0.92,1)" text-anchor="end" class="tk">2</text><text transform="translate(47.10,305.60) scale(0.92,1)" text-anchor="end" class="tk">3</text><text transform="translate(51.00,408.80) scale(0.92,1)" text-anchor="middle" class="tk">0</text><text transform="translate(103.25,408.80) scale(0.92,1)" text-anchor="middle" class="tk">0.005</text><text transform="translate(155.50,408.80) scale(0.92,1)" text-anchor="middle" class="tk">0.01</text><text transform="translate(207.75,408.80) scale(0.92,1)" text-anchor="middle" class="tk">0.015</text><text transform="translate(260.00,408.80) scale(0.92,1)" text-anchor="middle" class="tk">0.02</text><text x="155.5" y="423.0" text-anchor="middle" class="xl">time(sec)</text><g transform="translate(33.95,355.0) rotate(-90)"><text x="0" y="0" class="yl">F<tspan class="s1" dx="-0.9" dy="1.8">3</tspan><tspan class="s2" dx="-0.3" dy="2.3">1</tspan></text></g><text transform="translate(322.60,306.20) scale(0.92,1)" text-anchor="end" class="tk">0</text><text transform="translate(322.60,349.80) scale(0.92,1)" text-anchor="end" class="tk">-2</text><text transform="translate(322.60,393.70) scale(0.92,1)" text-anchor="end" class="tk">-4</text><text transform="translate(326.50,408.80) scale(0.92,1)" text-anchor="middle" class="tk">0</text><text transform="translate(378.75,408.80) scale(0.92,1)" text-anchor="middle" class="tk">0.005</text><text transform="translate(431.00,408.80) scale(0.92,1)" text-anchor="middle" class="tk">0.01</text><text transform="translate(483.25,408.80) scale(0.92,1)" text-anchor="middle" class="tk">0.015</text><text transform="translate(535.50,408.80) scale(0.92,1)" text-anchor="middle" class="tk">0.02</text><text x="431.0" y="423.0" text-anchor="middle" class="xl">time(sec)</text><g transform="translate(305.29,355.0) rotate(-90)"><text x="0" y="0" class="yl">F<tspan class="s1" dx="-0.9" dy="1.8">3</tspan><tspan class="s2" dx="-0.3" dy="2.3">2</tspan></text></g>
</svg>
</body></html>
